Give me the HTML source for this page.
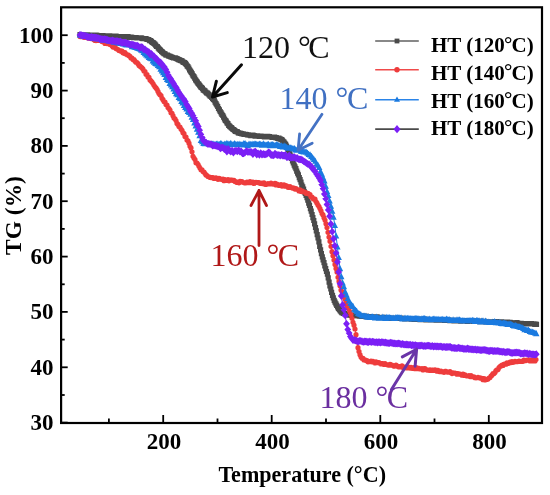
<!DOCTYPE html>
<html><head><meta charset="utf-8"><title>TG</title>
<style>
html,body{margin:0;padding:0;background:#fff;}
svg{display:block}
text{font-family:"Liberation Serif",serif;}
.tk text{font-weight:bold;font-size:23px;fill:#000}
.ax line{stroke:#000;stroke-width:1.8}
.an{font-size:32px}
.lg text{font-weight:bold;font-size:21px}
</style></head><body>
<svg width="550" height="495" viewBox="0 0 550 495">
<rect width="550" height="495" fill="#fff"/>
<g class="cv">
<path d="M80,34.6 80.8,35.1 81.7,35.1 82.5,34.8 83.4,35 84.2,35 85.1,35.2 85.9,35.3 86.8,34.9 87.6,34.9 88.5,35.5 89.3,35.2 90.2,35.5 91,35 91.9,35.3 92.7,35.6 93.6,35.3 94.4,35.8 95.3,35.8 96.1,35.2 97,35.3 97.8,35.7 98.7,36 99.5,35.6 100.4,35.6 101.2,35.7 102.1,35.5 102.9,35.7 103.8,35.9 104.6,35.9 105.5,35.8 106.3,35.8 107.2,35.9 108,36.1 108.9,36 109.7,35.9 110.6,36.5 111.4,36.3 112.3,36.4 113.1,36.1 114,36.7 114.8,36.7 115.7,36.2 116.5,36.4 117.4,36.7 118.2,36.7 119.1,36.9 119.9,36.6 120.8,36.9 121.6,36.8 122.5,36.6 123.3,36.9 124.2,37.1 125,37.1 125.9,36.9 126.7,37 127.6,36.7 128.4,36.9 129.3,37.4 130.1,37.2 131,37 131.8,37.4 132.7,37.5 133.5,37.6 134.4,37.5 135.2,37.6 136.1,37.7 136.9,38 137.8,37.9 138.6,37.8 139.5,38 140.3,37.8 141.2,37.9 142,38.4 142.9,38.7 143.7,38.5 144.6,38.5 145.4,38.5 146.3,38.9 147.1,39.4 148,39.5 148.8,39.7 149.7,40.7 150.5,40.7 151.4,41.4 152.2,42.3 153.1,42.7 153.9,43.4 154.8,44.1 155.6,45.1 156.5,46.3 157.3,46.5 158.2,47.9 159,48.8 159.9,49.7 160.7,50.5 161.6,51.5 162.4,52.2 163.3,53 164.1,53.6 165,53.8 165.8,54.9 166.7,55.1 167.5,55.2 168.4,55.8 169.2,56.2 170.1,56.4 170.9,56.8 171.8,57.2 172.6,57.5 173.5,57.8 174.3,57.9 175.2,57.9 176,58.3 176.9,58.6 177.7,59.2 178.6,59.7 179.4,59.9 180.3,60.3 181.1,60.7 182,60.8 182.8,61.8 183.7,62.3 184.5,62.6 185.4,63.4 186.2,64.4 187.1,65.9 187.9,66.7 188.8,68 189.6,69.8 190.5,71.1 191.3,72.4 192.2,73.9 193,75.6 193.9,76.7 194.7,78.2 195.6,79.8 196.4,81 197.3,82.2 198.1,83.5 199,84.4 199.8,85.7 200.7,86.8 201.5,87.5 202.4,88.4 203.2,89.8 204.1,90.3 204.9,90.9 205.8,92 206.6,92.9 207.5,93.2 208.3,94 209.2,94.9 210,96 210.9,96.4 211.7,97.5 212.6,98.4 213.4,99.3 214.3,100.2 215.1,102.1 216,103.6 216.8,105 217.7,106.5 218.5,108.5 219.4,109.9 220.2,111.5 221.1,112.8 221.9,114.4 222.8,115.5 223.6,117.1 224.5,119 225.3,120.3 226.2,121.2 227,122.9 227.9,123.7 228.7,125.3 229.6,126.2 230.4,127 231.3,127.7 232.1,128.3 233,129.5 233.8,129.6 234.7,130.7 235.5,131.3 236.4,131.6 237.2,131.7 238.1,132.6 238.9,133.1 239.8,133.2 240.6,133.4 241.5,133.6 242.3,133.8 243.2,133.9 244,134.4 244.9,134.4 245.7,134.4 246.6,134.5 247.4,135 248.3,134.9 249.1,135.1 250,135.1 250.8,135.6 251.7,135.7 252.5,135.2 253.4,135.4 254.2,135.6 255.1,136.1 255.9,136.1 256.8,135.8 257.6,135.8 258.5,136.2 259.3,136.4 260.2,136.5 261,136.1 261.9,136.5 262.7,136.4 263.6,136.4 264.4,136.8 265.3,136.3 266.1,136.7 267,136.3 267.8,136.4 268.7,137 269.5,136.6 270.4,137 271.2,137 272.1,137.3 272.9,137 273.8,137.1 274.6,137.2 275.5,137.7 276.3,137.7 277.2,138.1 278,138.4 278.9,138.2 279.7,138.9 280.6,139.1 281.4,139.5 282.3,140.1 283.1,141.4 284,142.2 284.8,143.4 285.7,144.4 286.5,146.1 287.4,148 288.2,149.7 289.1,152 289.9,153.9 290.8,156.1 291.6,158.4 292.5,161 293.3,162.9 294.2,165.2 295,166.8 295.9,168.7 296.7,171.1 297.6,173.2 298.4,174.8 299.3,177.6 300.1,179.7 301,182.1 301.9,185.1 302.7,186.9 303.6,189.2 304.4,191.8 305.3,193.4 306.1,195.3 307,197.6 307.8,200.2 308.7,203.1 309.5,205.3 310.4,208.6 311.2,211.1 312.1,214.5 312.9,217.6 313.8,220.5 314.6,223.9 315.5,227.5 316.3,230.8 317.2,234.7 318,238 318.9,241.9 319.7,246.4 320.6,249.8 321.4,253.6 322.3,256.9 323.1,259.9 324,262.6 324.8,265.9 325.7,268.7 326.5,271.5 327.4,274.1 328.2,277.8 329.1,282.1 329.9,285.9 330.8,289 331.6,292.4 332.5,295.4 333.3,297.9 334.2,300.4 335,302.2 335.9,303.9 336.7,305.3 337.6,306.8 338.4,308.5 339.3,309.3 340.1,310.6 341,311.6 341.8,312.6 342.7,312.9 343.5,313.3 344.4,313.6 345.2,313.9 346.1,314.6 346.9,314.8 347.8,314.6 348.6,314.8 349.5,315.1 350.3,315.2 351.2,315.3 352,315.2 352.9,315.1 353.7,315.3 354.6,315.3 355.4,315.7 356.3,315.4 357.1,315.5 358,315.9 358.8,315.8 359.7,316.2 360.5,316 361.4,316.4 362.2,315.9 363.1,316.2 363.9,316.5 364.8,316.1 365.6,316.7 366.5,316.3 367.3,316.7 368.2,316.9 369,316.9 369.9,316.6 370.7,316.5 371.6,316.9 372.4,317.2 373.3,316.8 374.1,317.3 375,316.8 375.8,317.4 376.7,316.8 377.5,317.1 378.4,317.6 379.2,317.5 380.1,317.7 380.9,317.7 381.8,317.7 382.6,317.7 383.5,317.4 384.3,317.6 385.2,317.5 386,317.9 386.9,317.9 387.7,317.7 388.6,317.6 389.4,318.3 390.3,318.2 391.1,318.1 392,318.1 392.8,318.4 393.7,318.1 394.5,318.1 395.4,318.1 396.2,318.1 397.1,318 397.9,318.5 398.8,318.4 399.6,318.5 400.5,318.2 401.3,318.5 402.2,318.4 403,318.4 403.9,318.5 404.7,318.9 405.6,318.7 406.4,318.7 407.3,318.9 408.1,318.7 409,318.6 409.8,319 410.7,319 411.5,319.1 412.4,319 413.2,319.2 414.1,319.3 414.9,318.9 415.8,319.1 416.6,319.2 417.5,319 418.3,319.2 419.2,319.3 420,319.6 420.9,319.6 421.7,319.2 422.6,319.5 423.4,319.1 424.3,319.1 425.1,319.5 426,319.8 426.8,319.3 427.7,319.7 428.5,319.8 429.4,319.5 430.2,319.8 431.1,319.9 431.9,319.6 432.8,319.9 433.6,319.9 434.5,319.8 435.3,320 436.2,320.1 437,320.2 437.9,319.9 438.7,319.7 439.6,319.8 440.4,319.8 441.3,320.1 442.1,320.2 443,319.8 443.8,320.2 444.7,320.3 445.5,320.1 446.4,320.2 447.2,320 448.1,320.4 448.9,320 449.8,320.7 450.6,320.6 451.5,320.5 452.3,320.3 453.2,320.7 454,320.8 454.9,320.3 455.7,320.7 456.6,320.8 457.4,320.7 458.3,320.8 459.1,320.6 460,321 460.8,321.1 461.7,320.7 462.5,321 463.4,320.8 464.2,320.6 465.1,320.8 465.9,320.6 466.8,321.2 467.6,321.3 468.5,320.7 469.3,321.1 470.2,321 471,320.8 471.9,321 472.7,321 473.6,321.4 474.4,320.9 475.3,321 476.1,321.2 477,321 477.8,321.4 478.7,321.5 479.5,321.6 480.4,321.2 481.2,321.3 482.1,321.5 482.9,321.4 483.8,321.6 484.6,321.4 485.5,321.8 486.3,321.9 487.2,321.9 488,322 488.9,321.8 489.7,321.8 490.6,322.1 491.4,322 492.3,321.9 493.1,321.8 494,321.8 494.8,321.7 495.7,322.2 496.5,321.7 497.4,322.2 498.2,322.1 499.1,322.4 499.9,322.3 500.8,322.5 501.6,321.9 502.5,322.2 503.3,322.3 504.2,322.2 505,322.3 505.9,322.3 506.7,322.4 507.6,322.1 508.4,322.4 509.3,322.5 510.1,322.4 511,322.5 511.8,322.9 512.7,322.8 513.5,322.8 514.4,322.9 515.2,322.8 516.1,322.8 516.9,322.7 517.8,323 518.6,323.3 519.5,323.5 520.3,323.6 521.2,323.4 522,323.8 522.9,323.5 523.7,323.8 524.6,323.5 525.4,323.8 526.3,324 527.1,323.6 528,323.5 528.8,323.9 529.7,323.9 530.5,323.8 531.4,323.6 532.2,323.9 533.1,323.9 533.9,323.9 534.8,324.3 535.6,324.1 536.5,324.3" fill="none" stroke="#4a4a4a" stroke-width="1"/><path d="M77.4,32h5.2v5.2h-5.2zM78.2,32.5h5.2v5.2h-5.2zM79.1,32.5h5.2v5.2h-5.2zM79.9,32.2h5.2v5.2h-5.2zM80.8,32.4h5.2v5.2h-5.2zM81.6,32.4h5.2v5.2h-5.2zM82.5,32.6h5.2v5.2h-5.2zM83.3,32.7h5.2v5.2h-5.2zM84.2,32.3h5.2v5.2h-5.2zM85,32.3h5.2v5.2h-5.2zM85.9,32.9h5.2v5.2h-5.2zM86.7,32.6h5.2v5.2h-5.2zM87.6,32.9h5.2v5.2h-5.2zM88.4,32.4h5.2v5.2h-5.2zM89.3,32.7h5.2v5.2h-5.2zM90.1,33h5.2v5.2h-5.2zM91,32.7h5.2v5.2h-5.2zM91.8,33.2h5.2v5.2h-5.2zM92.7,33.2h5.2v5.2h-5.2zM93.5,32.6h5.2v5.2h-5.2zM94.4,32.7h5.2v5.2h-5.2zM95.2,33.1h5.2v5.2h-5.2zM96.1,33.4h5.2v5.2h-5.2zM96.9,33h5.2v5.2h-5.2zM97.8,33h5.2v5.2h-5.2zM98.6,33.1h5.2v5.2h-5.2zM99.5,32.9h5.2v5.2h-5.2zM100.3,33.1h5.2v5.2h-5.2zM101.2,33.3h5.2v5.2h-5.2zM102,33.3h5.2v5.2h-5.2zM102.9,33.2h5.2v5.2h-5.2zM103.7,33.2h5.2v5.2h-5.2zM104.6,33.3h5.2v5.2h-5.2zM105.4,33.5h5.2v5.2h-5.2zM106.3,33.4h5.2v5.2h-5.2zM107.1,33.3h5.2v5.2h-5.2zM108,33.9h5.2v5.2h-5.2zM108.8,33.7h5.2v5.2h-5.2zM109.7,33.8h5.2v5.2h-5.2zM110.5,33.5h5.2v5.2h-5.2zM111.4,34.1h5.2v5.2h-5.2zM112.2,34.1h5.2v5.2h-5.2zM113.1,33.6h5.2v5.2h-5.2zM113.9,33.8h5.2v5.2h-5.2zM114.8,34.1h5.2v5.2h-5.2zM115.6,34.1h5.2v5.2h-5.2zM116.5,34.3h5.2v5.2h-5.2zM117.3,34h5.2v5.2h-5.2zM118.2,34.3h5.2v5.2h-5.2zM119,34.2h5.2v5.2h-5.2zM119.9,34h5.2v5.2h-5.2zM120.7,34.3h5.2v5.2h-5.2zM121.6,34.5h5.2v5.2h-5.2zM122.4,34.5h5.2v5.2h-5.2zM123.3,34.3h5.2v5.2h-5.2zM124.1,34.4h5.2v5.2h-5.2zM125,34.1h5.2v5.2h-5.2zM125.8,34.3h5.2v5.2h-5.2zM126.7,34.8h5.2v5.2h-5.2zM127.5,34.6h5.2v5.2h-5.2zM128.4,34.4h5.2v5.2h-5.2zM129.2,34.8h5.2v5.2h-5.2zM130.1,34.9h5.2v5.2h-5.2zM130.9,35h5.2v5.2h-5.2zM131.8,34.9h5.2v5.2h-5.2zM132.6,35h5.2v5.2h-5.2zM133.5,35.1h5.2v5.2h-5.2zM134.3,35.4h5.2v5.2h-5.2zM135.2,35.3h5.2v5.2h-5.2zM136,35.2h5.2v5.2h-5.2zM136.9,35.4h5.2v5.2h-5.2zM137.7,35.2h5.2v5.2h-5.2zM138.6,35.3h5.2v5.2h-5.2zM139.4,35.8h5.2v5.2h-5.2zM140.3,36.1h5.2v5.2h-5.2zM141.1,35.9h5.2v5.2h-5.2zM142,35.9h5.2v5.2h-5.2zM142.8,35.9h5.2v5.2h-5.2zM143.7,36.3h5.2v5.2h-5.2zM144.5,36.8h5.2v5.2h-5.2zM145.4,36.9h5.2v5.2h-5.2zM146.2,37.1h5.2v5.2h-5.2zM147.1,38.1h5.2v5.2h-5.2zM147.9,38.1h5.2v5.2h-5.2zM148.8,38.8h5.2v5.2h-5.2zM149.6,39.7h5.2v5.2h-5.2zM150.5,40.1h5.2v5.2h-5.2zM151.3,40.8h5.2v5.2h-5.2zM152.2,41.5h5.2v5.2h-5.2zM153,42.5h5.2v5.2h-5.2zM153.9,43.7h5.2v5.2h-5.2zM154.7,43.9h5.2v5.2h-5.2zM155.6,45.3h5.2v5.2h-5.2zM156.4,46.2h5.2v5.2h-5.2zM157.3,47.1h5.2v5.2h-5.2zM158.1,47.9h5.2v5.2h-5.2zM159,48.9h5.2v5.2h-5.2zM159.8,49.6h5.2v5.2h-5.2zM160.7,50.4h5.2v5.2h-5.2zM161.5,51h5.2v5.2h-5.2zM162.4,51.2h5.2v5.2h-5.2zM163.2,52.3h5.2v5.2h-5.2zM164.1,52.5h5.2v5.2h-5.2zM164.9,52.6h5.2v5.2h-5.2zM165.8,53.2h5.2v5.2h-5.2zM166.6,53.6h5.2v5.2h-5.2zM167.5,53.8h5.2v5.2h-5.2zM168.3,54.2h5.2v5.2h-5.2zM169.2,54.6h5.2v5.2h-5.2zM170,54.9h5.2v5.2h-5.2zM170.9,55.2h5.2v5.2h-5.2zM171.7,55.3h5.2v5.2h-5.2zM172.6,55.3h5.2v5.2h-5.2zM173.4,55.7h5.2v5.2h-5.2zM174.3,56h5.2v5.2h-5.2zM175.1,56.6h5.2v5.2h-5.2zM176,57.1h5.2v5.2h-5.2zM176.8,57.3h5.2v5.2h-5.2zM177.7,57.7h5.2v5.2h-5.2zM178.5,58.1h5.2v5.2h-5.2zM179.4,58.2h5.2v5.2h-5.2zM180.2,59.2h5.2v5.2h-5.2zM181.1,59.7h5.2v5.2h-5.2zM181.9,60h5.2v5.2h-5.2zM182.8,60.8h5.2v5.2h-5.2zM183.6,61.8h5.2v5.2h-5.2zM184.5,63.3h5.2v5.2h-5.2zM185.3,64.1h5.2v5.2h-5.2zM186.2,65.4h5.2v5.2h-5.2zM187,67.2h5.2v5.2h-5.2zM187.9,68.5h5.2v5.2h-5.2zM188.7,69.8h5.2v5.2h-5.2zM189.6,71.3h5.2v5.2h-5.2zM190.4,73h5.2v5.2h-5.2zM191.3,74.1h5.2v5.2h-5.2zM192.1,75.6h5.2v5.2h-5.2zM193,77.2h5.2v5.2h-5.2zM193.8,78.4h5.2v5.2h-5.2zM194.7,79.6h5.2v5.2h-5.2zM195.5,80.9h5.2v5.2h-5.2zM196.4,81.8h5.2v5.2h-5.2zM197.2,83.1h5.2v5.2h-5.2zM198.1,84.2h5.2v5.2h-5.2zM198.9,84.9h5.2v5.2h-5.2zM199.8,85.8h5.2v5.2h-5.2zM200.6,87.2h5.2v5.2h-5.2zM201.5,87.7h5.2v5.2h-5.2zM202.3,88.3h5.2v5.2h-5.2zM203.2,89.4h5.2v5.2h-5.2zM204,90.3h5.2v5.2h-5.2zM204.9,90.6h5.2v5.2h-5.2zM205.7,91.4h5.2v5.2h-5.2zM206.6,92.3h5.2v5.2h-5.2zM207.4,93.4h5.2v5.2h-5.2zM208.3,93.8h5.2v5.2h-5.2zM209.1,94.9h5.2v5.2h-5.2zM210,95.8h5.2v5.2h-5.2zM210.8,96.7h5.2v5.2h-5.2zM211.7,97.6h5.2v5.2h-5.2zM212.5,99.5h5.2v5.2h-5.2zM213.4,101h5.2v5.2h-5.2zM214.2,102.4h5.2v5.2h-5.2zM215.1,103.9h5.2v5.2h-5.2zM215.9,105.9h5.2v5.2h-5.2zM216.8,107.3h5.2v5.2h-5.2zM217.6,108.9h5.2v5.2h-5.2zM218.5,110.2h5.2v5.2h-5.2zM219.3,111.8h5.2v5.2h-5.2zM220.2,112.9h5.2v5.2h-5.2zM221,114.5h5.2v5.2h-5.2zM221.9,116.4h5.2v5.2h-5.2zM222.7,117.7h5.2v5.2h-5.2zM223.6,118.6h5.2v5.2h-5.2zM224.4,120.3h5.2v5.2h-5.2zM225.3,121.1h5.2v5.2h-5.2zM226.1,122.7h5.2v5.2h-5.2zM227,123.6h5.2v5.2h-5.2zM227.8,124.4h5.2v5.2h-5.2zM228.7,125.1h5.2v5.2h-5.2zM229.5,125.7h5.2v5.2h-5.2zM230.4,126.9h5.2v5.2h-5.2zM231.2,127h5.2v5.2h-5.2zM232.1,128.1h5.2v5.2h-5.2zM232.9,128.7h5.2v5.2h-5.2zM233.8,129h5.2v5.2h-5.2zM234.6,129.1h5.2v5.2h-5.2zM235.5,130h5.2v5.2h-5.2zM236.3,130.5h5.2v5.2h-5.2zM237.2,130.6h5.2v5.2h-5.2zM238,130.8h5.2v5.2h-5.2zM238.9,131h5.2v5.2h-5.2zM239.7,131.2h5.2v5.2h-5.2zM240.6,131.3h5.2v5.2h-5.2zM241.4,131.8h5.2v5.2h-5.2zM242.3,131.8h5.2v5.2h-5.2zM243.1,131.8h5.2v5.2h-5.2zM244,131.9h5.2v5.2h-5.2zM244.8,132.4h5.2v5.2h-5.2zM245.7,132.3h5.2v5.2h-5.2zM246.5,132.5h5.2v5.2h-5.2zM247.4,132.5h5.2v5.2h-5.2zM248.2,133h5.2v5.2h-5.2zM249.1,133.1h5.2v5.2h-5.2zM249.9,132.6h5.2v5.2h-5.2zM250.8,132.8h5.2v5.2h-5.2zM251.6,133h5.2v5.2h-5.2zM252.5,133.5h5.2v5.2h-5.2zM253.3,133.5h5.2v5.2h-5.2zM254.2,133.2h5.2v5.2h-5.2zM255,133.2h5.2v5.2h-5.2zM255.9,133.6h5.2v5.2h-5.2zM256.7,133.8h5.2v5.2h-5.2zM257.6,133.9h5.2v5.2h-5.2zM258.4,133.5h5.2v5.2h-5.2zM259.3,133.9h5.2v5.2h-5.2zM260.1,133.8h5.2v5.2h-5.2zM261,133.8h5.2v5.2h-5.2zM261.8,134.2h5.2v5.2h-5.2zM262.7,133.7h5.2v5.2h-5.2zM263.5,134.1h5.2v5.2h-5.2zM264.4,133.7h5.2v5.2h-5.2zM265.2,133.8h5.2v5.2h-5.2zM266.1,134.4h5.2v5.2h-5.2zM266.9,134h5.2v5.2h-5.2zM267.8,134.4h5.2v5.2h-5.2zM268.6,134.4h5.2v5.2h-5.2zM269.5,134.7h5.2v5.2h-5.2zM270.3,134.4h5.2v5.2h-5.2zM271.2,134.5h5.2v5.2h-5.2zM272,134.6h5.2v5.2h-5.2zM272.9,135.1h5.2v5.2h-5.2zM273.7,135.1h5.2v5.2h-5.2zM274.6,135.5h5.2v5.2h-5.2zM275.4,135.8h5.2v5.2h-5.2zM276.3,135.6h5.2v5.2h-5.2zM277.1,136.3h5.2v5.2h-5.2zM278,136.5h5.2v5.2h-5.2zM278.8,136.9h5.2v5.2h-5.2zM279.7,137.5h5.2v5.2h-5.2zM280.5,138.8h5.2v5.2h-5.2zM281.4,139.6h5.2v5.2h-5.2zM282.2,140.8h5.2v5.2h-5.2zM283.1,141.8h5.2v5.2h-5.2zM283.9,143.5h5.2v5.2h-5.2zM284.8,145.4h5.2v5.2h-5.2zM285.6,147.1h5.2v5.2h-5.2zM286.5,149.4h5.2v5.2h-5.2zM287.3,151.3h5.2v5.2h-5.2zM288.2,153.5h5.2v5.2h-5.2zM289,155.8h5.2v5.2h-5.2zM289.9,158.4h5.2v5.2h-5.2zM290.7,160.3h5.2v5.2h-5.2zM291.6,162.6h5.2v5.2h-5.2zM292.4,164.2h5.2v5.2h-5.2zM293.3,166.1h5.2v5.2h-5.2zM294.1,168.5h5.2v5.2h-5.2zM295,170.6h5.2v5.2h-5.2zM295.8,172.2h5.2v5.2h-5.2zM296.7,175h5.2v5.2h-5.2zM297.5,177.1h5.2v5.2h-5.2zM298.4,179.5h5.2v5.2h-5.2zM299.2,182.5h5.2v5.2h-5.2zM300.1,184.3h5.2v5.2h-5.2zM301,186.6h5.2v5.2h-5.2zM301.8,189.2h5.2v5.2h-5.2zM302.7,190.8h5.2v5.2h-5.2zM303.5,192.7h5.2v5.2h-5.2zM304.4,195h5.2v5.2h-5.2zM305.2,197.6h5.2v5.2h-5.2zM306.1,200.5h5.2v5.2h-5.2zM306.9,202.7h5.2v5.2h-5.2zM307.8,206h5.2v5.2h-5.2zM308.6,208.5h5.2v5.2h-5.2zM309.5,211.9h5.2v5.2h-5.2zM310.3,215h5.2v5.2h-5.2zM311.2,217.9h5.2v5.2h-5.2zM312,221.3h5.2v5.2h-5.2zM312.9,224.9h5.2v5.2h-5.2zM313.7,228.2h5.2v5.2h-5.2zM314.6,232.1h5.2v5.2h-5.2zM315.4,235.4h5.2v5.2h-5.2zM316.3,239.3h5.2v5.2h-5.2zM317.1,243.8h5.2v5.2h-5.2zM318,247.2h5.2v5.2h-5.2zM318.8,251h5.2v5.2h-5.2zM319.7,254.3h5.2v5.2h-5.2zM320.5,257.3h5.2v5.2h-5.2zM321.4,260h5.2v5.2h-5.2zM322.2,263.3h5.2v5.2h-5.2zM323.1,266.1h5.2v5.2h-5.2zM323.9,268.9h5.2v5.2h-5.2zM324.8,271.5h5.2v5.2h-5.2zM325.6,275.2h5.2v5.2h-5.2zM326.5,279.5h5.2v5.2h-5.2zM327.3,283.3h5.2v5.2h-5.2zM328.2,286.4h5.2v5.2h-5.2zM329,289.8h5.2v5.2h-5.2zM329.9,292.8h5.2v5.2h-5.2zM330.7,295.3h5.2v5.2h-5.2zM331.6,297.8h5.2v5.2h-5.2zM332.4,299.6h5.2v5.2h-5.2zM333.3,301.3h5.2v5.2h-5.2zM334.1,302.7h5.2v5.2h-5.2zM335,304.2h5.2v5.2h-5.2zM335.8,305.9h5.2v5.2h-5.2zM336.7,306.7h5.2v5.2h-5.2zM337.5,308h5.2v5.2h-5.2zM338.4,309h5.2v5.2h-5.2zM339.2,310h5.2v5.2h-5.2zM340.1,310.3h5.2v5.2h-5.2zM340.9,310.7h5.2v5.2h-5.2zM341.8,311h5.2v5.2h-5.2zM342.6,311.3h5.2v5.2h-5.2zM343.5,312h5.2v5.2h-5.2zM344.3,312.2h5.2v5.2h-5.2zM345.2,312h5.2v5.2h-5.2zM346,312.2h5.2v5.2h-5.2zM346.9,312.5h5.2v5.2h-5.2zM347.7,312.6h5.2v5.2h-5.2zM348.6,312.7h5.2v5.2h-5.2zM349.4,312.6h5.2v5.2h-5.2zM350.3,312.5h5.2v5.2h-5.2zM351.1,312.7h5.2v5.2h-5.2zM352,312.7h5.2v5.2h-5.2zM352.8,313.1h5.2v5.2h-5.2zM353.7,312.8h5.2v5.2h-5.2zM354.5,312.9h5.2v5.2h-5.2zM355.4,313.3h5.2v5.2h-5.2zM356.2,313.2h5.2v5.2h-5.2zM357.1,313.6h5.2v5.2h-5.2zM357.9,313.4h5.2v5.2h-5.2zM358.8,313.8h5.2v5.2h-5.2zM359.6,313.3h5.2v5.2h-5.2zM360.5,313.6h5.2v5.2h-5.2zM361.3,313.9h5.2v5.2h-5.2zM362.2,313.5h5.2v5.2h-5.2zM363,314.1h5.2v5.2h-5.2zM363.9,313.7h5.2v5.2h-5.2zM364.7,314.1h5.2v5.2h-5.2zM365.6,314.3h5.2v5.2h-5.2zM366.4,314.3h5.2v5.2h-5.2zM367.3,314h5.2v5.2h-5.2zM368.1,313.9h5.2v5.2h-5.2zM369,314.3h5.2v5.2h-5.2zM369.8,314.6h5.2v5.2h-5.2zM370.7,314.2h5.2v5.2h-5.2zM371.5,314.7h5.2v5.2h-5.2zM372.4,314.2h5.2v5.2h-5.2zM373.2,314.8h5.2v5.2h-5.2zM374.1,314.2h5.2v5.2h-5.2zM374.9,314.5h5.2v5.2h-5.2zM375.8,315h5.2v5.2h-5.2zM376.6,314.9h5.2v5.2h-5.2zM377.5,315.1h5.2v5.2h-5.2zM378.3,315.1h5.2v5.2h-5.2zM379.2,315.1h5.2v5.2h-5.2zM380,315.1h5.2v5.2h-5.2zM380.9,314.8h5.2v5.2h-5.2zM381.7,315h5.2v5.2h-5.2zM382.6,314.9h5.2v5.2h-5.2zM383.4,315.3h5.2v5.2h-5.2zM384.3,315.3h5.2v5.2h-5.2zM385.1,315.1h5.2v5.2h-5.2zM386,315h5.2v5.2h-5.2zM386.8,315.7h5.2v5.2h-5.2zM387.7,315.6h5.2v5.2h-5.2zM388.5,315.5h5.2v5.2h-5.2zM389.4,315.5h5.2v5.2h-5.2zM390.2,315.8h5.2v5.2h-5.2zM391.1,315.5h5.2v5.2h-5.2zM391.9,315.5h5.2v5.2h-5.2zM392.8,315.5h5.2v5.2h-5.2zM393.6,315.5h5.2v5.2h-5.2zM394.5,315.4h5.2v5.2h-5.2zM395.3,315.9h5.2v5.2h-5.2zM396.2,315.8h5.2v5.2h-5.2zM397,315.9h5.2v5.2h-5.2zM397.9,315.6h5.2v5.2h-5.2zM398.7,315.9h5.2v5.2h-5.2zM399.6,315.8h5.2v5.2h-5.2zM400.4,315.8h5.2v5.2h-5.2zM401.3,315.9h5.2v5.2h-5.2zM402.1,316.3h5.2v5.2h-5.2zM403,316.1h5.2v5.2h-5.2zM403.8,316.1h5.2v5.2h-5.2zM404.7,316.3h5.2v5.2h-5.2zM405.5,316.1h5.2v5.2h-5.2zM406.4,316h5.2v5.2h-5.2zM407.2,316.4h5.2v5.2h-5.2zM408.1,316.4h5.2v5.2h-5.2zM408.9,316.5h5.2v5.2h-5.2zM409.8,316.4h5.2v5.2h-5.2zM410.6,316.6h5.2v5.2h-5.2zM411.5,316.7h5.2v5.2h-5.2zM412.3,316.3h5.2v5.2h-5.2zM413.2,316.5h5.2v5.2h-5.2zM414,316.6h5.2v5.2h-5.2zM414.9,316.4h5.2v5.2h-5.2zM415.7,316.6h5.2v5.2h-5.2zM416.6,316.7h5.2v5.2h-5.2zM417.4,317h5.2v5.2h-5.2zM418.3,317h5.2v5.2h-5.2zM419.1,316.6h5.2v5.2h-5.2zM420,316.9h5.2v5.2h-5.2zM420.8,316.5h5.2v5.2h-5.2zM421.7,316.5h5.2v5.2h-5.2zM422.5,316.9h5.2v5.2h-5.2zM423.4,317.2h5.2v5.2h-5.2zM424.2,316.7h5.2v5.2h-5.2zM425.1,317.1h5.2v5.2h-5.2zM425.9,317.2h5.2v5.2h-5.2zM426.8,316.9h5.2v5.2h-5.2zM427.6,317.2h5.2v5.2h-5.2zM428.5,317.3h5.2v5.2h-5.2zM429.3,317h5.2v5.2h-5.2zM430.2,317.3h5.2v5.2h-5.2zM431,317.3h5.2v5.2h-5.2zM431.9,317.2h5.2v5.2h-5.2zM432.7,317.4h5.2v5.2h-5.2zM433.6,317.5h5.2v5.2h-5.2zM434.4,317.6h5.2v5.2h-5.2zM435.3,317.3h5.2v5.2h-5.2zM436.1,317.1h5.2v5.2h-5.2zM437,317.2h5.2v5.2h-5.2zM437.8,317.2h5.2v5.2h-5.2zM438.7,317.5h5.2v5.2h-5.2zM439.5,317.6h5.2v5.2h-5.2zM440.4,317.2h5.2v5.2h-5.2zM441.2,317.6h5.2v5.2h-5.2zM442.1,317.7h5.2v5.2h-5.2zM442.9,317.5h5.2v5.2h-5.2zM443.8,317.6h5.2v5.2h-5.2zM444.6,317.4h5.2v5.2h-5.2zM445.5,317.8h5.2v5.2h-5.2zM446.3,317.4h5.2v5.2h-5.2zM447.2,318.1h5.2v5.2h-5.2zM448,318h5.2v5.2h-5.2zM448.9,317.9h5.2v5.2h-5.2zM449.7,317.7h5.2v5.2h-5.2zM450.6,318.1h5.2v5.2h-5.2zM451.4,318.2h5.2v5.2h-5.2zM452.3,317.7h5.2v5.2h-5.2zM453.1,318.1h5.2v5.2h-5.2zM454,318.2h5.2v5.2h-5.2zM454.8,318.1h5.2v5.2h-5.2zM455.7,318.2h5.2v5.2h-5.2zM456.5,318h5.2v5.2h-5.2zM457.4,318.4h5.2v5.2h-5.2zM458.2,318.5h5.2v5.2h-5.2zM459.1,318.1h5.2v5.2h-5.2zM459.9,318.4h5.2v5.2h-5.2zM460.8,318.2h5.2v5.2h-5.2zM461.6,318h5.2v5.2h-5.2zM462.5,318.2h5.2v5.2h-5.2zM463.3,318h5.2v5.2h-5.2zM464.2,318.6h5.2v5.2h-5.2zM465,318.7h5.2v5.2h-5.2zM465.9,318.1h5.2v5.2h-5.2zM466.7,318.5h5.2v5.2h-5.2zM467.6,318.4h5.2v5.2h-5.2zM468.4,318.2h5.2v5.2h-5.2zM469.3,318.4h5.2v5.2h-5.2zM470.1,318.4h5.2v5.2h-5.2zM471,318.8h5.2v5.2h-5.2zM471.8,318.3h5.2v5.2h-5.2zM472.7,318.4h5.2v5.2h-5.2zM473.5,318.6h5.2v5.2h-5.2zM474.4,318.4h5.2v5.2h-5.2zM475.2,318.8h5.2v5.2h-5.2zM476.1,318.9h5.2v5.2h-5.2zM476.9,319h5.2v5.2h-5.2zM477.8,318.6h5.2v5.2h-5.2zM478.6,318.7h5.2v5.2h-5.2zM479.5,318.9h5.2v5.2h-5.2zM480.3,318.8h5.2v5.2h-5.2zM481.2,319h5.2v5.2h-5.2zM482,318.8h5.2v5.2h-5.2zM482.9,319.2h5.2v5.2h-5.2zM483.7,319.3h5.2v5.2h-5.2zM484.6,319.3h5.2v5.2h-5.2zM485.4,319.4h5.2v5.2h-5.2zM486.3,319.2h5.2v5.2h-5.2zM487.1,319.2h5.2v5.2h-5.2zM488,319.5h5.2v5.2h-5.2zM488.8,319.4h5.2v5.2h-5.2zM489.7,319.3h5.2v5.2h-5.2zM490.5,319.2h5.2v5.2h-5.2zM491.4,319.2h5.2v5.2h-5.2zM492.2,319.1h5.2v5.2h-5.2zM493.1,319.6h5.2v5.2h-5.2zM493.9,319.1h5.2v5.2h-5.2zM494.8,319.6h5.2v5.2h-5.2zM495.6,319.5h5.2v5.2h-5.2zM496.5,319.8h5.2v5.2h-5.2zM497.3,319.7h5.2v5.2h-5.2zM498.2,319.9h5.2v5.2h-5.2zM499,319.3h5.2v5.2h-5.2zM499.9,319.6h5.2v5.2h-5.2zM500.7,319.7h5.2v5.2h-5.2zM501.6,319.6h5.2v5.2h-5.2zM502.4,319.7h5.2v5.2h-5.2zM503.3,319.7h5.2v5.2h-5.2zM504.1,319.8h5.2v5.2h-5.2zM505,319.5h5.2v5.2h-5.2zM505.8,319.8h5.2v5.2h-5.2zM506.7,319.9h5.2v5.2h-5.2zM507.5,319.8h5.2v5.2h-5.2zM508.4,319.9h5.2v5.2h-5.2zM509.2,320.3h5.2v5.2h-5.2zM510.1,320.2h5.2v5.2h-5.2zM510.9,320.2h5.2v5.2h-5.2zM511.8,320.3h5.2v5.2h-5.2zM512.6,320.2h5.2v5.2h-5.2zM513.5,320.2h5.2v5.2h-5.2zM514.3,320.1h5.2v5.2h-5.2zM515.2,320.4h5.2v5.2h-5.2zM516,320.7h5.2v5.2h-5.2zM516.9,320.9h5.2v5.2h-5.2zM517.7,321h5.2v5.2h-5.2zM518.6,320.8h5.2v5.2h-5.2zM519.4,321.2h5.2v5.2h-5.2zM520.3,320.9h5.2v5.2h-5.2zM521.1,321.2h5.2v5.2h-5.2zM522,320.9h5.2v5.2h-5.2zM522.8,321.2h5.2v5.2h-5.2zM523.7,321.4h5.2v5.2h-5.2zM524.5,321h5.2v5.2h-5.2zM525.4,320.9h5.2v5.2h-5.2zM526.2,321.3h5.2v5.2h-5.2zM527.1,321.3h5.2v5.2h-5.2zM527.9,321.2h5.2v5.2h-5.2zM528.8,321h5.2v5.2h-5.2zM529.6,321.3h5.2v5.2h-5.2zM530.5,321.3h5.2v5.2h-5.2zM531.3,321.3h5.2v5.2h-5.2zM532.2,321.7h5.2v5.2h-5.2zM533,321.5h5.2v5.2h-5.2zM533.9,321.7h5.2v5.2h-5.2z" fill="#4a4a4a"/>
<path d="M80,36.5 81,36.7 82,35.5 83,35.8 84,37.3 85,37.4 86,37.5 87,37.2 88,38 89,38.2 90,38.4 91,38 92,38.7 93,38.9 94,39.7 95,40.4 96,40.6 97,40.2 98,40.3 99,40.3 100,40.3 101,40.6 102,41.6 103,41.7 104,42.2 105,43.4 106,43.1 107,43.6 108,43.5 109,43.6 110,44.5 111,44.7 112,45.8 113,47.1 114,47.1 115,46.9 116,48.6 117,49 118,49.5 119,50.4 120,50.7 121,51.3 122,51.2 123,52.8 124,53.3 125,52.6 126,54.1 127,54.7 128,54.9 129,55.7 130,56.4 131,57.9 132,58 133,59.4 134,59.5 135,61.2 136,62.2 137,62.5 138,63.7 139,65.4 140,66.2 141,67 142,67.8 143,69.2 144,71.1 145,71.6 146,74.2 147,74.5 148,77 149,77.4 150,79.9 151,80.9 152,82 153,83.5 154,85.3 155,86.8 156,87.9 157,89.3 158,91.4 159,93.6 160,94.7 161,95.5 162,98.3 163,99.7 164,101.6 165,102.1 166,104.6 167,105.1 168,107.6 169,108.6 170,110.1 171,112.8 172,113.3 173,115.7 174,118 175,118.8 176,120.5 177,123.4 178,124.4 179,126.5 180,127 181,129.1 182,130.3 183,132.7 184,133.5 185,136.6 186,137 187,140 188,140.8 189,143.2 190,146.3 191,147.9 192,151.8 193,156.3 194,158.1 195,159.5 196,162.7 197,163 198,164.3 199,166.3 200,168.1 201,169.7 202,169.9 203,171.5 204,172 205,173.6 206,174.9 207,175.6 208,176.5 209,176.8 210,177.4 211,177.6 212,177.6 213,177.5 214,178.4 215,178 216,177.8 217,178.5 218,179.3 219,178.3 220,179.2 221,179.1 222,179.5 223,179 224,180.7 225,179.6 226,180.4 227,180.2 228,179.6 229,180.8 230,180.1 231,180 232,180.1 233,180.5 234,180.4 235,181.6 236,181.5 237,182.5 238,182.5 239,182.8 240,181.3 241,181.8 242,181.5 243,182.3 244,182.5 245,182.9 246,182.8 247,182 248,182.4 249,182.7 250,181.7 251,181.8 252,182.7 253,182.1 254,183.4 255,182.5 256,182.3 257,182.5 258,182.6 259,182.7 260,183.3 261,183.3 262,183 263,183.7 264,182.9 265,184.3 266,184.5 267,184.1 268,183.6 269,183.8 270,184 271,183 272,183.8 273,184.1 274,183.5 275,183.4 276,184.9 277,184.2 278,184.6 279,185.5 280,185.1 281,184.7 282,186.1 283,185.2 284,184.9 285,186.2 286,185.6 287,186.2 288,187.3 289,187.3 290,186.5 291,187.5 292,187.7 293,188.2 294,188.2 295,189.1 296,188.7 297,189.3 298,189.8 299,191 300,189.9 301,191.4 302,190.8 303,191.7 304,191.8 305,192.3 306,193.3 307,193.2 308,193.3 309,194 310,194.6 311,196.7 312,197.2 313,198.6 314,199.2 315,199.2 316,201.5 317,203.2 318,205 319,206.6 320,208.5 321,210.8 322,213.5 323,214.9 324,217.7 325,220 326,223.7 327,227.5 328,232.3 329,237 330,241.3 331,246.3 332,251.7 333,255.8 334,260.1 335,264.4 336,268.6 337,272.1 338,277.3 339,281.3 340,285.8 341,290 342,291.5 343,294.6 344,296.7 345,299.3 346,303.2 347,305.8 348,307.7 349,309.3 350,312.1 351,314.6 352,318.3 353,322.3 354,325.2 355,329 356,334.7 357,341.8 358,347.7 359,351.4 360,354.7 361,357 362,358.3 363,358.3 364,360 365,359.8 366,360.6 367,360.5 368,361.8 369,361.7 370,361.6 371,361.1 372,361.8 373,361.3 374,362.3 375,362.9 376,361.9 377,362.6 378,362.7 379,362.7 380,363.3 381,363.9 382,363.7 383,363.5 384,364.4 385,363.6 386,364.5 387,364.5 388,364.9 389,365.2 390,364.4 391,365.2 392,365 393,365.6 394,366.2 395,365.9 396,365 397,365.9 398,366.4 399,366.9 400,366.6 401,367 402,365.9 403,367.5 404,367.3 405,367.2 406,367.8 407,367.9 408,366.8 409,368 410,368.1 411,367.3 412,368.3 413,368.1 414,367.6 415,368.7 416,367.7 417,368.6 418,368.4 419,368.3 420,368.9 421,368.8 422,368.5 423,369.9 424,368.6 425,368.6 426,369.5 427,370.1 428,370 429,370.3 430,369.9 431,370.4 432,370 433,370 434,370.5 435,369.8 436,370 437,371.2 438,370.4 439,371.5 440,371.7 441,371.2 442,371.7 443,372 444,372.3 445,371.3 446,371.4 447,371.9 448,372.2 449,372.1 450,371.7 451,372.8 452,373.6 453,372.8 454,373.2 455,373.1 456,373.3 457,374.2 458,373.5 459,374.2 460,374.1 461,374.4 462,375.2 463,374 464,375.4 465,374.8 466,375.5 467,375.9 468,375.9 469,375.7 470,376.6 471,375.6 472,376.7 473,376.5 474,376.9 475,377.7 476,377.8 477,377.7 478,377.4 479,377.5 480,378.1 481,378 482,378.4 483,379.7 484,378.6 485,379.9 486,379.4 487,379.4 488,379.1 489,378.1 490,377.6 491,376.1 492,375.2 493,373.7 494,373.5 495,372.4 496,370.6 497,369.9 498,369.5 499,367.6 500,366.5 501,365.9 502,365.2 503,365.4 504,364.4 505,363.9 506,364.2 507,362.9 508,363.5 509,362.9 510,362.2 511,362.6 512,361.6 513,362.3 514,362.1 515,361.3 516,361.5 517,361.7 518,361.3 519,361.2 520,361.3 521,361.3 522,361 523,361.3 524,360.1 525,360.6 526,360.6 527,360.1 528,360.1 529,359.8 530,361 531,360 532,360.2 533,360.9 534,359.7 535,361 536,359.6" fill="none" stroke="#ee3c3c" stroke-width="1"/><path d="M77.4,36.5a2.6,2.6 0 1,0 5.2,0a2.6,2.6 0 1,0 -5.2,0zM78.4,36.7a2.6,2.6 0 1,0 5.2,0a2.6,2.6 0 1,0 -5.2,0zM79.4,35.5a2.6,2.6 0 1,0 5.2,0a2.6,2.6 0 1,0 -5.2,0zM80.4,35.8a2.6,2.6 0 1,0 5.2,0a2.6,2.6 0 1,0 -5.2,0zM81.4,37.3a2.6,2.6 0 1,0 5.2,0a2.6,2.6 0 1,0 -5.2,0zM82.4,37.4a2.6,2.6 0 1,0 5.2,0a2.6,2.6 0 1,0 -5.2,0zM83.4,37.5a2.6,2.6 0 1,0 5.2,0a2.6,2.6 0 1,0 -5.2,0zM84.4,37.2a2.6,2.6 0 1,0 5.2,0a2.6,2.6 0 1,0 -5.2,0zM85.4,38a2.6,2.6 0 1,0 5.2,0a2.6,2.6 0 1,0 -5.2,0zM86.4,38.2a2.6,2.6 0 1,0 5.2,0a2.6,2.6 0 1,0 -5.2,0zM87.4,38.4a2.6,2.6 0 1,0 5.2,0a2.6,2.6 0 1,0 -5.2,0zM88.4,38a2.6,2.6 0 1,0 5.2,0a2.6,2.6 0 1,0 -5.2,0zM89.4,38.7a2.6,2.6 0 1,0 5.2,0a2.6,2.6 0 1,0 -5.2,0zM90.4,38.9a2.6,2.6 0 1,0 5.2,0a2.6,2.6 0 1,0 -5.2,0zM91.4,39.7a2.6,2.6 0 1,0 5.2,0a2.6,2.6 0 1,0 -5.2,0zM92.4,40.4a2.6,2.6 0 1,0 5.2,0a2.6,2.6 0 1,0 -5.2,0zM93.4,40.6a2.6,2.6 0 1,0 5.2,0a2.6,2.6 0 1,0 -5.2,0zM94.4,40.2a2.6,2.6 0 1,0 5.2,0a2.6,2.6 0 1,0 -5.2,0zM95.4,40.3a2.6,2.6 0 1,0 5.2,0a2.6,2.6 0 1,0 -5.2,0zM96.4,40.3a2.6,2.6 0 1,0 5.2,0a2.6,2.6 0 1,0 -5.2,0zM97.4,40.3a2.6,2.6 0 1,0 5.2,0a2.6,2.6 0 1,0 -5.2,0zM98.4,40.6a2.6,2.6 0 1,0 5.2,0a2.6,2.6 0 1,0 -5.2,0zM99.4,41.6a2.6,2.6 0 1,0 5.2,0a2.6,2.6 0 1,0 -5.2,0zM100.4,41.7a2.6,2.6 0 1,0 5.2,0a2.6,2.6 0 1,0 -5.2,0zM101.4,42.2a2.6,2.6 0 1,0 5.2,0a2.6,2.6 0 1,0 -5.2,0zM102.4,43.4a2.6,2.6 0 1,0 5.2,0a2.6,2.6 0 1,0 -5.2,0zM103.4,43.1a2.6,2.6 0 1,0 5.2,0a2.6,2.6 0 1,0 -5.2,0zM104.4,43.6a2.6,2.6 0 1,0 5.2,0a2.6,2.6 0 1,0 -5.2,0zM105.4,43.5a2.6,2.6 0 1,0 5.2,0a2.6,2.6 0 1,0 -5.2,0zM106.4,43.6a2.6,2.6 0 1,0 5.2,0a2.6,2.6 0 1,0 -5.2,0zM107.4,44.5a2.6,2.6 0 1,0 5.2,0a2.6,2.6 0 1,0 -5.2,0zM108.4,44.7a2.6,2.6 0 1,0 5.2,0a2.6,2.6 0 1,0 -5.2,0zM109.4,45.8a2.6,2.6 0 1,0 5.2,0a2.6,2.6 0 1,0 -5.2,0zM110.4,47.1a2.6,2.6 0 1,0 5.2,0a2.6,2.6 0 1,0 -5.2,0zM111.4,47.1a2.6,2.6 0 1,0 5.2,0a2.6,2.6 0 1,0 -5.2,0zM112.4,46.9a2.6,2.6 0 1,0 5.2,0a2.6,2.6 0 1,0 -5.2,0zM113.4,48.6a2.6,2.6 0 1,0 5.2,0a2.6,2.6 0 1,0 -5.2,0zM114.4,49a2.6,2.6 0 1,0 5.2,0a2.6,2.6 0 1,0 -5.2,0zM115.4,49.5a2.6,2.6 0 1,0 5.2,0a2.6,2.6 0 1,0 -5.2,0zM116.4,50.4a2.6,2.6 0 1,0 5.2,0a2.6,2.6 0 1,0 -5.2,0zM117.4,50.7a2.6,2.6 0 1,0 5.2,0a2.6,2.6 0 1,0 -5.2,0zM118.4,51.3a2.6,2.6 0 1,0 5.2,0a2.6,2.6 0 1,0 -5.2,0zM119.4,51.2a2.6,2.6 0 1,0 5.2,0a2.6,2.6 0 1,0 -5.2,0zM120.4,52.8a2.6,2.6 0 1,0 5.2,0a2.6,2.6 0 1,0 -5.2,0zM121.4,53.3a2.6,2.6 0 1,0 5.2,0a2.6,2.6 0 1,0 -5.2,0zM122.4,52.6a2.6,2.6 0 1,0 5.2,0a2.6,2.6 0 1,0 -5.2,0zM123.4,54.1a2.6,2.6 0 1,0 5.2,0a2.6,2.6 0 1,0 -5.2,0zM124.4,54.7a2.6,2.6 0 1,0 5.2,0a2.6,2.6 0 1,0 -5.2,0zM125.4,54.9a2.6,2.6 0 1,0 5.2,0a2.6,2.6 0 1,0 -5.2,0zM126.4,55.7a2.6,2.6 0 1,0 5.2,0a2.6,2.6 0 1,0 -5.2,0zM127.4,56.4a2.6,2.6 0 1,0 5.2,0a2.6,2.6 0 1,0 -5.2,0zM128.4,57.9a2.6,2.6 0 1,0 5.2,0a2.6,2.6 0 1,0 -5.2,0zM129.4,58a2.6,2.6 0 1,0 5.2,0a2.6,2.6 0 1,0 -5.2,0zM130.4,59.4a2.6,2.6 0 1,0 5.2,0a2.6,2.6 0 1,0 -5.2,0zM131.4,59.5a2.6,2.6 0 1,0 5.2,0a2.6,2.6 0 1,0 -5.2,0zM132.4,61.2a2.6,2.6 0 1,0 5.2,0a2.6,2.6 0 1,0 -5.2,0zM133.4,62.2a2.6,2.6 0 1,0 5.2,0a2.6,2.6 0 1,0 -5.2,0zM134.4,62.5a2.6,2.6 0 1,0 5.2,0a2.6,2.6 0 1,0 -5.2,0zM135.4,63.7a2.6,2.6 0 1,0 5.2,0a2.6,2.6 0 1,0 -5.2,0zM136.4,65.4a2.6,2.6 0 1,0 5.2,0a2.6,2.6 0 1,0 -5.2,0zM137.4,66.2a2.6,2.6 0 1,0 5.2,0a2.6,2.6 0 1,0 -5.2,0zM138.4,67a2.6,2.6 0 1,0 5.2,0a2.6,2.6 0 1,0 -5.2,0zM139.4,67.8a2.6,2.6 0 1,0 5.2,0a2.6,2.6 0 1,0 -5.2,0zM140.4,69.2a2.6,2.6 0 1,0 5.2,0a2.6,2.6 0 1,0 -5.2,0zM141.4,71.1a2.6,2.6 0 1,0 5.2,0a2.6,2.6 0 1,0 -5.2,0zM142.4,71.6a2.6,2.6 0 1,0 5.2,0a2.6,2.6 0 1,0 -5.2,0zM143.4,74.2a2.6,2.6 0 1,0 5.2,0a2.6,2.6 0 1,0 -5.2,0zM144.4,74.5a2.6,2.6 0 1,0 5.2,0a2.6,2.6 0 1,0 -5.2,0zM145.4,77a2.6,2.6 0 1,0 5.2,0a2.6,2.6 0 1,0 -5.2,0zM146.4,77.4a2.6,2.6 0 1,0 5.2,0a2.6,2.6 0 1,0 -5.2,0zM147.4,79.9a2.6,2.6 0 1,0 5.2,0a2.6,2.6 0 1,0 -5.2,0zM148.4,80.9a2.6,2.6 0 1,0 5.2,0a2.6,2.6 0 1,0 -5.2,0zM149.4,82a2.6,2.6 0 1,0 5.2,0a2.6,2.6 0 1,0 -5.2,0zM150.4,83.5a2.6,2.6 0 1,0 5.2,0a2.6,2.6 0 1,0 -5.2,0zM151.4,85.3a2.6,2.6 0 1,0 5.2,0a2.6,2.6 0 1,0 -5.2,0zM152.4,86.8a2.6,2.6 0 1,0 5.2,0a2.6,2.6 0 1,0 -5.2,0zM153.4,87.9a2.6,2.6 0 1,0 5.2,0a2.6,2.6 0 1,0 -5.2,0zM154.4,89.3a2.6,2.6 0 1,0 5.2,0a2.6,2.6 0 1,0 -5.2,0zM155.4,91.4a2.6,2.6 0 1,0 5.2,0a2.6,2.6 0 1,0 -5.2,0zM156.4,93.6a2.6,2.6 0 1,0 5.2,0a2.6,2.6 0 1,0 -5.2,0zM157.4,94.7a2.6,2.6 0 1,0 5.2,0a2.6,2.6 0 1,0 -5.2,0zM158.4,95.5a2.6,2.6 0 1,0 5.2,0a2.6,2.6 0 1,0 -5.2,0zM159.4,98.3a2.6,2.6 0 1,0 5.2,0a2.6,2.6 0 1,0 -5.2,0zM160.4,99.7a2.6,2.6 0 1,0 5.2,0a2.6,2.6 0 1,0 -5.2,0zM161.4,101.6a2.6,2.6 0 1,0 5.2,0a2.6,2.6 0 1,0 -5.2,0zM162.4,102.1a2.6,2.6 0 1,0 5.2,0a2.6,2.6 0 1,0 -5.2,0zM163.4,104.6a2.6,2.6 0 1,0 5.2,0a2.6,2.6 0 1,0 -5.2,0zM164.4,105.1a2.6,2.6 0 1,0 5.2,0a2.6,2.6 0 1,0 -5.2,0zM165.4,107.6a2.6,2.6 0 1,0 5.2,0a2.6,2.6 0 1,0 -5.2,0zM166.4,108.6a2.6,2.6 0 1,0 5.2,0a2.6,2.6 0 1,0 -5.2,0zM167.4,110.1a2.6,2.6 0 1,0 5.2,0a2.6,2.6 0 1,0 -5.2,0zM168.4,112.8a2.6,2.6 0 1,0 5.2,0a2.6,2.6 0 1,0 -5.2,0zM169.4,113.3a2.6,2.6 0 1,0 5.2,0a2.6,2.6 0 1,0 -5.2,0zM170.4,115.7a2.6,2.6 0 1,0 5.2,0a2.6,2.6 0 1,0 -5.2,0zM171.4,118a2.6,2.6 0 1,0 5.2,0a2.6,2.6 0 1,0 -5.2,0zM172.4,118.8a2.6,2.6 0 1,0 5.2,0a2.6,2.6 0 1,0 -5.2,0zM173.4,120.5a2.6,2.6 0 1,0 5.2,0a2.6,2.6 0 1,0 -5.2,0zM174.4,123.4a2.6,2.6 0 1,0 5.2,0a2.6,2.6 0 1,0 -5.2,0zM175.4,124.4a2.6,2.6 0 1,0 5.2,0a2.6,2.6 0 1,0 -5.2,0zM176.4,126.5a2.6,2.6 0 1,0 5.2,0a2.6,2.6 0 1,0 -5.2,0zM177.4,127a2.6,2.6 0 1,0 5.2,0a2.6,2.6 0 1,0 -5.2,0zM178.4,129.1a2.6,2.6 0 1,0 5.2,0a2.6,2.6 0 1,0 -5.2,0zM179.4,130.3a2.6,2.6 0 1,0 5.2,0a2.6,2.6 0 1,0 -5.2,0zM180.4,132.7a2.6,2.6 0 1,0 5.2,0a2.6,2.6 0 1,0 -5.2,0zM181.4,133.5a2.6,2.6 0 1,0 5.2,0a2.6,2.6 0 1,0 -5.2,0zM182.4,136.6a2.6,2.6 0 1,0 5.2,0a2.6,2.6 0 1,0 -5.2,0zM183.4,137a2.6,2.6 0 1,0 5.2,0a2.6,2.6 0 1,0 -5.2,0zM184.4,140a2.6,2.6 0 1,0 5.2,0a2.6,2.6 0 1,0 -5.2,0zM185.4,140.8a2.6,2.6 0 1,0 5.2,0a2.6,2.6 0 1,0 -5.2,0zM186.4,143.2a2.6,2.6 0 1,0 5.2,0a2.6,2.6 0 1,0 -5.2,0zM187.4,146.3a2.6,2.6 0 1,0 5.2,0a2.6,2.6 0 1,0 -5.2,0zM188.4,147.9a2.6,2.6 0 1,0 5.2,0a2.6,2.6 0 1,0 -5.2,0zM189.4,151.8a2.6,2.6 0 1,0 5.2,0a2.6,2.6 0 1,0 -5.2,0zM190.4,156.3a2.6,2.6 0 1,0 5.2,0a2.6,2.6 0 1,0 -5.2,0zM191.4,158.1a2.6,2.6 0 1,0 5.2,0a2.6,2.6 0 1,0 -5.2,0zM192.4,159.5a2.6,2.6 0 1,0 5.2,0a2.6,2.6 0 1,0 -5.2,0zM193.4,162.7a2.6,2.6 0 1,0 5.2,0a2.6,2.6 0 1,0 -5.2,0zM194.4,163a2.6,2.6 0 1,0 5.2,0a2.6,2.6 0 1,0 -5.2,0zM195.4,164.3a2.6,2.6 0 1,0 5.2,0a2.6,2.6 0 1,0 -5.2,0zM196.4,166.3a2.6,2.6 0 1,0 5.2,0a2.6,2.6 0 1,0 -5.2,0zM197.4,168.1a2.6,2.6 0 1,0 5.2,0a2.6,2.6 0 1,0 -5.2,0zM198.4,169.7a2.6,2.6 0 1,0 5.2,0a2.6,2.6 0 1,0 -5.2,0zM199.4,169.9a2.6,2.6 0 1,0 5.2,0a2.6,2.6 0 1,0 -5.2,0zM200.4,171.5a2.6,2.6 0 1,0 5.2,0a2.6,2.6 0 1,0 -5.2,0zM201.4,172a2.6,2.6 0 1,0 5.2,0a2.6,2.6 0 1,0 -5.2,0zM202.4,173.6a2.6,2.6 0 1,0 5.2,0a2.6,2.6 0 1,0 -5.2,0zM203.4,174.9a2.6,2.6 0 1,0 5.2,0a2.6,2.6 0 1,0 -5.2,0zM204.4,175.6a2.6,2.6 0 1,0 5.2,0a2.6,2.6 0 1,0 -5.2,0zM205.4,176.5a2.6,2.6 0 1,0 5.2,0a2.6,2.6 0 1,0 -5.2,0zM206.4,176.8a2.6,2.6 0 1,0 5.2,0a2.6,2.6 0 1,0 -5.2,0zM207.4,177.4a2.6,2.6 0 1,0 5.2,0a2.6,2.6 0 1,0 -5.2,0zM208.4,177.6a2.6,2.6 0 1,0 5.2,0a2.6,2.6 0 1,0 -5.2,0zM209.4,177.6a2.6,2.6 0 1,0 5.2,0a2.6,2.6 0 1,0 -5.2,0zM210.4,177.5a2.6,2.6 0 1,0 5.2,0a2.6,2.6 0 1,0 -5.2,0zM211.4,178.4a2.6,2.6 0 1,0 5.2,0a2.6,2.6 0 1,0 -5.2,0zM212.4,178a2.6,2.6 0 1,0 5.2,0a2.6,2.6 0 1,0 -5.2,0zM213.4,177.8a2.6,2.6 0 1,0 5.2,0a2.6,2.6 0 1,0 -5.2,0zM214.4,178.5a2.6,2.6 0 1,0 5.2,0a2.6,2.6 0 1,0 -5.2,0zM215.4,179.3a2.6,2.6 0 1,0 5.2,0a2.6,2.6 0 1,0 -5.2,0zM216.4,178.3a2.6,2.6 0 1,0 5.2,0a2.6,2.6 0 1,0 -5.2,0zM217.4,179.2a2.6,2.6 0 1,0 5.2,0a2.6,2.6 0 1,0 -5.2,0zM218.4,179.1a2.6,2.6 0 1,0 5.2,0a2.6,2.6 0 1,0 -5.2,0zM219.4,179.5a2.6,2.6 0 1,0 5.2,0a2.6,2.6 0 1,0 -5.2,0zM220.4,179a2.6,2.6 0 1,0 5.2,0a2.6,2.6 0 1,0 -5.2,0zM221.4,180.7a2.6,2.6 0 1,0 5.2,0a2.6,2.6 0 1,0 -5.2,0zM222.4,179.6a2.6,2.6 0 1,0 5.2,0a2.6,2.6 0 1,0 -5.2,0zM223.4,180.4a2.6,2.6 0 1,0 5.2,0a2.6,2.6 0 1,0 -5.2,0zM224.4,180.2a2.6,2.6 0 1,0 5.2,0a2.6,2.6 0 1,0 -5.2,0zM225.4,179.6a2.6,2.6 0 1,0 5.2,0a2.6,2.6 0 1,0 -5.2,0zM226.4,180.8a2.6,2.6 0 1,0 5.2,0a2.6,2.6 0 1,0 -5.2,0zM227.4,180.1a2.6,2.6 0 1,0 5.2,0a2.6,2.6 0 1,0 -5.2,0zM228.4,180a2.6,2.6 0 1,0 5.2,0a2.6,2.6 0 1,0 -5.2,0zM229.4,180.1a2.6,2.6 0 1,0 5.2,0a2.6,2.6 0 1,0 -5.2,0zM230.4,180.5a2.6,2.6 0 1,0 5.2,0a2.6,2.6 0 1,0 -5.2,0zM231.4,180.4a2.6,2.6 0 1,0 5.2,0a2.6,2.6 0 1,0 -5.2,0zM232.4,181.6a2.6,2.6 0 1,0 5.2,0a2.6,2.6 0 1,0 -5.2,0zM233.4,181.5a2.6,2.6 0 1,0 5.2,0a2.6,2.6 0 1,0 -5.2,0zM234.4,182.5a2.6,2.6 0 1,0 5.2,0a2.6,2.6 0 1,0 -5.2,0zM235.4,182.5a2.6,2.6 0 1,0 5.2,0a2.6,2.6 0 1,0 -5.2,0zM236.4,182.8a2.6,2.6 0 1,0 5.2,0a2.6,2.6 0 1,0 -5.2,0zM237.4,181.3a2.6,2.6 0 1,0 5.2,0a2.6,2.6 0 1,0 -5.2,0zM238.4,181.8a2.6,2.6 0 1,0 5.2,0a2.6,2.6 0 1,0 -5.2,0zM239.4,181.5a2.6,2.6 0 1,0 5.2,0a2.6,2.6 0 1,0 -5.2,0zM240.4,182.3a2.6,2.6 0 1,0 5.2,0a2.6,2.6 0 1,0 -5.2,0zM241.4,182.5a2.6,2.6 0 1,0 5.2,0a2.6,2.6 0 1,0 -5.2,0zM242.4,182.9a2.6,2.6 0 1,0 5.2,0a2.6,2.6 0 1,0 -5.2,0zM243.4,182.8a2.6,2.6 0 1,0 5.2,0a2.6,2.6 0 1,0 -5.2,0zM244.4,182a2.6,2.6 0 1,0 5.2,0a2.6,2.6 0 1,0 -5.2,0zM245.4,182.4a2.6,2.6 0 1,0 5.2,0a2.6,2.6 0 1,0 -5.2,0zM246.4,182.7a2.6,2.6 0 1,0 5.2,0a2.6,2.6 0 1,0 -5.2,0zM247.4,181.7a2.6,2.6 0 1,0 5.2,0a2.6,2.6 0 1,0 -5.2,0zM248.4,181.8a2.6,2.6 0 1,0 5.2,0a2.6,2.6 0 1,0 -5.2,0zM249.4,182.7a2.6,2.6 0 1,0 5.2,0a2.6,2.6 0 1,0 -5.2,0zM250.4,182.1a2.6,2.6 0 1,0 5.2,0a2.6,2.6 0 1,0 -5.2,0zM251.4,183.4a2.6,2.6 0 1,0 5.2,0a2.6,2.6 0 1,0 -5.2,0zM252.4,182.5a2.6,2.6 0 1,0 5.2,0a2.6,2.6 0 1,0 -5.2,0zM253.4,182.3a2.6,2.6 0 1,0 5.2,0a2.6,2.6 0 1,0 -5.2,0zM254.4,182.5a2.6,2.6 0 1,0 5.2,0a2.6,2.6 0 1,0 -5.2,0zM255.4,182.6a2.6,2.6 0 1,0 5.2,0a2.6,2.6 0 1,0 -5.2,0zM256.4,182.7a2.6,2.6 0 1,0 5.2,0a2.6,2.6 0 1,0 -5.2,0zM257.4,183.3a2.6,2.6 0 1,0 5.2,0a2.6,2.6 0 1,0 -5.2,0zM258.4,183.3a2.6,2.6 0 1,0 5.2,0a2.6,2.6 0 1,0 -5.2,0zM259.4,183a2.6,2.6 0 1,0 5.2,0a2.6,2.6 0 1,0 -5.2,0zM260.4,183.7a2.6,2.6 0 1,0 5.2,0a2.6,2.6 0 1,0 -5.2,0zM261.4,182.9a2.6,2.6 0 1,0 5.2,0a2.6,2.6 0 1,0 -5.2,0zM262.4,184.3a2.6,2.6 0 1,0 5.2,0a2.6,2.6 0 1,0 -5.2,0zM263.4,184.5a2.6,2.6 0 1,0 5.2,0a2.6,2.6 0 1,0 -5.2,0zM264.4,184.1a2.6,2.6 0 1,0 5.2,0a2.6,2.6 0 1,0 -5.2,0zM265.4,183.6a2.6,2.6 0 1,0 5.2,0a2.6,2.6 0 1,0 -5.2,0zM266.4,183.8a2.6,2.6 0 1,0 5.2,0a2.6,2.6 0 1,0 -5.2,0zM267.4,184a2.6,2.6 0 1,0 5.2,0a2.6,2.6 0 1,0 -5.2,0zM268.4,183a2.6,2.6 0 1,0 5.2,0a2.6,2.6 0 1,0 -5.2,0zM269.4,183.8a2.6,2.6 0 1,0 5.2,0a2.6,2.6 0 1,0 -5.2,0zM270.4,184.1a2.6,2.6 0 1,0 5.2,0a2.6,2.6 0 1,0 -5.2,0zM271.4,183.5a2.6,2.6 0 1,0 5.2,0a2.6,2.6 0 1,0 -5.2,0zM272.4,183.4a2.6,2.6 0 1,0 5.2,0a2.6,2.6 0 1,0 -5.2,0zM273.4,184.9a2.6,2.6 0 1,0 5.2,0a2.6,2.6 0 1,0 -5.2,0zM274.4,184.2a2.6,2.6 0 1,0 5.2,0a2.6,2.6 0 1,0 -5.2,0zM275.4,184.6a2.6,2.6 0 1,0 5.2,0a2.6,2.6 0 1,0 -5.2,0zM276.4,185.5a2.6,2.6 0 1,0 5.2,0a2.6,2.6 0 1,0 -5.2,0zM277.4,185.1a2.6,2.6 0 1,0 5.2,0a2.6,2.6 0 1,0 -5.2,0zM278.4,184.7a2.6,2.6 0 1,0 5.2,0a2.6,2.6 0 1,0 -5.2,0zM279.4,186.1a2.6,2.6 0 1,0 5.2,0a2.6,2.6 0 1,0 -5.2,0zM280.4,185.2a2.6,2.6 0 1,0 5.2,0a2.6,2.6 0 1,0 -5.2,0zM281.4,184.9a2.6,2.6 0 1,0 5.2,0a2.6,2.6 0 1,0 -5.2,0zM282.4,186.2a2.6,2.6 0 1,0 5.2,0a2.6,2.6 0 1,0 -5.2,0zM283.4,185.6a2.6,2.6 0 1,0 5.2,0a2.6,2.6 0 1,0 -5.2,0zM284.4,186.2a2.6,2.6 0 1,0 5.2,0a2.6,2.6 0 1,0 -5.2,0zM285.4,187.3a2.6,2.6 0 1,0 5.2,0a2.6,2.6 0 1,0 -5.2,0zM286.4,187.3a2.6,2.6 0 1,0 5.2,0a2.6,2.6 0 1,0 -5.2,0zM287.4,186.5a2.6,2.6 0 1,0 5.2,0a2.6,2.6 0 1,0 -5.2,0zM288.4,187.5a2.6,2.6 0 1,0 5.2,0a2.6,2.6 0 1,0 -5.2,0zM289.4,187.7a2.6,2.6 0 1,0 5.2,0a2.6,2.6 0 1,0 -5.2,0zM290.4,188.2a2.6,2.6 0 1,0 5.2,0a2.6,2.6 0 1,0 -5.2,0zM291.4,188.2a2.6,2.6 0 1,0 5.2,0a2.6,2.6 0 1,0 -5.2,0zM292.4,189.1a2.6,2.6 0 1,0 5.2,0a2.6,2.6 0 1,0 -5.2,0zM293.4,188.7a2.6,2.6 0 1,0 5.2,0a2.6,2.6 0 1,0 -5.2,0zM294.4,189.3a2.6,2.6 0 1,0 5.2,0a2.6,2.6 0 1,0 -5.2,0zM295.4,189.8a2.6,2.6 0 1,0 5.2,0a2.6,2.6 0 1,0 -5.2,0zM296.4,191a2.6,2.6 0 1,0 5.2,0a2.6,2.6 0 1,0 -5.2,0zM297.4,189.9a2.6,2.6 0 1,0 5.2,0a2.6,2.6 0 1,0 -5.2,0zM298.4,191.4a2.6,2.6 0 1,0 5.2,0a2.6,2.6 0 1,0 -5.2,0zM299.4,190.8a2.6,2.6 0 1,0 5.2,0a2.6,2.6 0 1,0 -5.2,0zM300.4,191.7a2.6,2.6 0 1,0 5.2,0a2.6,2.6 0 1,0 -5.2,0zM301.4,191.8a2.6,2.6 0 1,0 5.2,0a2.6,2.6 0 1,0 -5.2,0zM302.4,192.3a2.6,2.6 0 1,0 5.2,0a2.6,2.6 0 1,0 -5.2,0zM303.4,193.3a2.6,2.6 0 1,0 5.2,0a2.6,2.6 0 1,0 -5.2,0zM304.4,193.2a2.6,2.6 0 1,0 5.2,0a2.6,2.6 0 1,0 -5.2,0zM305.4,193.3a2.6,2.6 0 1,0 5.2,0a2.6,2.6 0 1,0 -5.2,0zM306.4,194a2.6,2.6 0 1,0 5.2,0a2.6,2.6 0 1,0 -5.2,0zM307.4,194.6a2.6,2.6 0 1,0 5.2,0a2.6,2.6 0 1,0 -5.2,0zM308.4,196.7a2.6,2.6 0 1,0 5.2,0a2.6,2.6 0 1,0 -5.2,0zM309.4,197.2a2.6,2.6 0 1,0 5.2,0a2.6,2.6 0 1,0 -5.2,0zM310.4,198.6a2.6,2.6 0 1,0 5.2,0a2.6,2.6 0 1,0 -5.2,0zM311.4,199.2a2.6,2.6 0 1,0 5.2,0a2.6,2.6 0 1,0 -5.2,0zM312.4,199.2a2.6,2.6 0 1,0 5.2,0a2.6,2.6 0 1,0 -5.2,0zM313.4,201.5a2.6,2.6 0 1,0 5.2,0a2.6,2.6 0 1,0 -5.2,0zM314.4,203.2a2.6,2.6 0 1,0 5.2,0a2.6,2.6 0 1,0 -5.2,0zM315.4,205a2.6,2.6 0 1,0 5.2,0a2.6,2.6 0 1,0 -5.2,0zM316.4,206.6a2.6,2.6 0 1,0 5.2,0a2.6,2.6 0 1,0 -5.2,0zM317.4,208.5a2.6,2.6 0 1,0 5.2,0a2.6,2.6 0 1,0 -5.2,0zM318.4,210.8a2.6,2.6 0 1,0 5.2,0a2.6,2.6 0 1,0 -5.2,0zM319.4,213.5a2.6,2.6 0 1,0 5.2,0a2.6,2.6 0 1,0 -5.2,0zM320.4,214.9a2.6,2.6 0 1,0 5.2,0a2.6,2.6 0 1,0 -5.2,0zM321.4,217.7a2.6,2.6 0 1,0 5.2,0a2.6,2.6 0 1,0 -5.2,0zM322.4,220a2.6,2.6 0 1,0 5.2,0a2.6,2.6 0 1,0 -5.2,0zM323.4,223.7a2.6,2.6 0 1,0 5.2,0a2.6,2.6 0 1,0 -5.2,0zM324.4,227.5a2.6,2.6 0 1,0 5.2,0a2.6,2.6 0 1,0 -5.2,0zM325.4,232.3a2.6,2.6 0 1,0 5.2,0a2.6,2.6 0 1,0 -5.2,0zM326.4,237a2.6,2.6 0 1,0 5.2,0a2.6,2.6 0 1,0 -5.2,0zM327.4,241.3a2.6,2.6 0 1,0 5.2,0a2.6,2.6 0 1,0 -5.2,0zM328.4,246.3a2.6,2.6 0 1,0 5.2,0a2.6,2.6 0 1,0 -5.2,0zM329.4,251.7a2.6,2.6 0 1,0 5.2,0a2.6,2.6 0 1,0 -5.2,0zM330.4,255.8a2.6,2.6 0 1,0 5.2,0a2.6,2.6 0 1,0 -5.2,0zM331.4,260.1a2.6,2.6 0 1,0 5.2,0a2.6,2.6 0 1,0 -5.2,0zM332.4,264.4a2.6,2.6 0 1,0 5.2,0a2.6,2.6 0 1,0 -5.2,0zM333.4,268.6a2.6,2.6 0 1,0 5.2,0a2.6,2.6 0 1,0 -5.2,0zM334.4,272.1a2.6,2.6 0 1,0 5.2,0a2.6,2.6 0 1,0 -5.2,0zM335.4,277.3a2.6,2.6 0 1,0 5.2,0a2.6,2.6 0 1,0 -5.2,0zM336.4,281.3a2.6,2.6 0 1,0 5.2,0a2.6,2.6 0 1,0 -5.2,0zM337.4,285.8a2.6,2.6 0 1,0 5.2,0a2.6,2.6 0 1,0 -5.2,0zM338.4,290a2.6,2.6 0 1,0 5.2,0a2.6,2.6 0 1,0 -5.2,0zM339.4,291.5a2.6,2.6 0 1,0 5.2,0a2.6,2.6 0 1,0 -5.2,0zM340.4,294.6a2.6,2.6 0 1,0 5.2,0a2.6,2.6 0 1,0 -5.2,0zM341.4,296.7a2.6,2.6 0 1,0 5.2,0a2.6,2.6 0 1,0 -5.2,0zM342.4,299.3a2.6,2.6 0 1,0 5.2,0a2.6,2.6 0 1,0 -5.2,0zM343.4,303.2a2.6,2.6 0 1,0 5.2,0a2.6,2.6 0 1,0 -5.2,0zM344.4,305.8a2.6,2.6 0 1,0 5.2,0a2.6,2.6 0 1,0 -5.2,0zM345.4,307.7a2.6,2.6 0 1,0 5.2,0a2.6,2.6 0 1,0 -5.2,0zM346.4,309.3a2.6,2.6 0 1,0 5.2,0a2.6,2.6 0 1,0 -5.2,0zM347.4,312.1a2.6,2.6 0 1,0 5.2,0a2.6,2.6 0 1,0 -5.2,0zM348.4,314.6a2.6,2.6 0 1,0 5.2,0a2.6,2.6 0 1,0 -5.2,0zM349.4,318.3a2.6,2.6 0 1,0 5.2,0a2.6,2.6 0 1,0 -5.2,0zM350.4,322.3a2.6,2.6 0 1,0 5.2,0a2.6,2.6 0 1,0 -5.2,0zM351.4,325.2a2.6,2.6 0 1,0 5.2,0a2.6,2.6 0 1,0 -5.2,0zM352.4,329a2.6,2.6 0 1,0 5.2,0a2.6,2.6 0 1,0 -5.2,0zM353.4,334.7a2.6,2.6 0 1,0 5.2,0a2.6,2.6 0 1,0 -5.2,0zM354.4,341.8a2.6,2.6 0 1,0 5.2,0a2.6,2.6 0 1,0 -5.2,0zM355.4,347.7a2.6,2.6 0 1,0 5.2,0a2.6,2.6 0 1,0 -5.2,0zM356.4,351.4a2.6,2.6 0 1,0 5.2,0a2.6,2.6 0 1,0 -5.2,0zM357.4,354.7a2.6,2.6 0 1,0 5.2,0a2.6,2.6 0 1,0 -5.2,0zM358.4,357a2.6,2.6 0 1,0 5.2,0a2.6,2.6 0 1,0 -5.2,0zM359.4,358.3a2.6,2.6 0 1,0 5.2,0a2.6,2.6 0 1,0 -5.2,0zM360.4,358.3a2.6,2.6 0 1,0 5.2,0a2.6,2.6 0 1,0 -5.2,0zM361.4,360a2.6,2.6 0 1,0 5.2,0a2.6,2.6 0 1,0 -5.2,0zM362.4,359.8a2.6,2.6 0 1,0 5.2,0a2.6,2.6 0 1,0 -5.2,0zM363.4,360.6a2.6,2.6 0 1,0 5.2,0a2.6,2.6 0 1,0 -5.2,0zM364.4,360.5a2.6,2.6 0 1,0 5.2,0a2.6,2.6 0 1,0 -5.2,0zM365.4,361.8a2.6,2.6 0 1,0 5.2,0a2.6,2.6 0 1,0 -5.2,0zM366.4,361.7a2.6,2.6 0 1,0 5.2,0a2.6,2.6 0 1,0 -5.2,0zM367.4,361.6a2.6,2.6 0 1,0 5.2,0a2.6,2.6 0 1,0 -5.2,0zM368.4,361.1a2.6,2.6 0 1,0 5.2,0a2.6,2.6 0 1,0 -5.2,0zM369.4,361.8a2.6,2.6 0 1,0 5.2,0a2.6,2.6 0 1,0 -5.2,0zM370.4,361.3a2.6,2.6 0 1,0 5.2,0a2.6,2.6 0 1,0 -5.2,0zM371.4,362.3a2.6,2.6 0 1,0 5.2,0a2.6,2.6 0 1,0 -5.2,0zM372.4,362.9a2.6,2.6 0 1,0 5.2,0a2.6,2.6 0 1,0 -5.2,0zM373.4,361.9a2.6,2.6 0 1,0 5.2,0a2.6,2.6 0 1,0 -5.2,0zM374.4,362.6a2.6,2.6 0 1,0 5.2,0a2.6,2.6 0 1,0 -5.2,0zM375.4,362.7a2.6,2.6 0 1,0 5.2,0a2.6,2.6 0 1,0 -5.2,0zM376.4,362.7a2.6,2.6 0 1,0 5.2,0a2.6,2.6 0 1,0 -5.2,0zM377.4,363.3a2.6,2.6 0 1,0 5.2,0a2.6,2.6 0 1,0 -5.2,0zM378.4,363.9a2.6,2.6 0 1,0 5.2,0a2.6,2.6 0 1,0 -5.2,0zM379.4,363.7a2.6,2.6 0 1,0 5.2,0a2.6,2.6 0 1,0 -5.2,0zM380.4,363.5a2.6,2.6 0 1,0 5.2,0a2.6,2.6 0 1,0 -5.2,0zM381.4,364.4a2.6,2.6 0 1,0 5.2,0a2.6,2.6 0 1,0 -5.2,0zM382.4,363.6a2.6,2.6 0 1,0 5.2,0a2.6,2.6 0 1,0 -5.2,0zM383.4,364.5a2.6,2.6 0 1,0 5.2,0a2.6,2.6 0 1,0 -5.2,0zM384.4,364.5a2.6,2.6 0 1,0 5.2,0a2.6,2.6 0 1,0 -5.2,0zM385.4,364.9a2.6,2.6 0 1,0 5.2,0a2.6,2.6 0 1,0 -5.2,0zM386.4,365.2a2.6,2.6 0 1,0 5.2,0a2.6,2.6 0 1,0 -5.2,0zM387.4,364.4a2.6,2.6 0 1,0 5.2,0a2.6,2.6 0 1,0 -5.2,0zM388.4,365.2a2.6,2.6 0 1,0 5.2,0a2.6,2.6 0 1,0 -5.2,0zM389.4,365a2.6,2.6 0 1,0 5.2,0a2.6,2.6 0 1,0 -5.2,0zM390.4,365.6a2.6,2.6 0 1,0 5.2,0a2.6,2.6 0 1,0 -5.2,0zM391.4,366.2a2.6,2.6 0 1,0 5.2,0a2.6,2.6 0 1,0 -5.2,0zM392.4,365.9a2.6,2.6 0 1,0 5.2,0a2.6,2.6 0 1,0 -5.2,0zM393.4,365a2.6,2.6 0 1,0 5.2,0a2.6,2.6 0 1,0 -5.2,0zM394.4,365.9a2.6,2.6 0 1,0 5.2,0a2.6,2.6 0 1,0 -5.2,0zM395.4,366.4a2.6,2.6 0 1,0 5.2,0a2.6,2.6 0 1,0 -5.2,0zM396.4,366.9a2.6,2.6 0 1,0 5.2,0a2.6,2.6 0 1,0 -5.2,0zM397.4,366.6a2.6,2.6 0 1,0 5.2,0a2.6,2.6 0 1,0 -5.2,0zM398.4,367a2.6,2.6 0 1,0 5.2,0a2.6,2.6 0 1,0 -5.2,0zM399.4,365.9a2.6,2.6 0 1,0 5.2,0a2.6,2.6 0 1,0 -5.2,0zM400.4,367.5a2.6,2.6 0 1,0 5.2,0a2.6,2.6 0 1,0 -5.2,0zM401.4,367.3a2.6,2.6 0 1,0 5.2,0a2.6,2.6 0 1,0 -5.2,0zM402.4,367.2a2.6,2.6 0 1,0 5.2,0a2.6,2.6 0 1,0 -5.2,0zM403.4,367.8a2.6,2.6 0 1,0 5.2,0a2.6,2.6 0 1,0 -5.2,0zM404.4,367.9a2.6,2.6 0 1,0 5.2,0a2.6,2.6 0 1,0 -5.2,0zM405.4,366.8a2.6,2.6 0 1,0 5.2,0a2.6,2.6 0 1,0 -5.2,0zM406.4,368a2.6,2.6 0 1,0 5.2,0a2.6,2.6 0 1,0 -5.2,0zM407.4,368.1a2.6,2.6 0 1,0 5.2,0a2.6,2.6 0 1,0 -5.2,0zM408.4,367.3a2.6,2.6 0 1,0 5.2,0a2.6,2.6 0 1,0 -5.2,0zM409.4,368.3a2.6,2.6 0 1,0 5.2,0a2.6,2.6 0 1,0 -5.2,0zM410.4,368.1a2.6,2.6 0 1,0 5.2,0a2.6,2.6 0 1,0 -5.2,0zM411.4,367.6a2.6,2.6 0 1,0 5.2,0a2.6,2.6 0 1,0 -5.2,0zM412.4,368.7a2.6,2.6 0 1,0 5.2,0a2.6,2.6 0 1,0 -5.2,0zM413.4,367.7a2.6,2.6 0 1,0 5.2,0a2.6,2.6 0 1,0 -5.2,0zM414.4,368.6a2.6,2.6 0 1,0 5.2,0a2.6,2.6 0 1,0 -5.2,0zM415.4,368.4a2.6,2.6 0 1,0 5.2,0a2.6,2.6 0 1,0 -5.2,0zM416.4,368.3a2.6,2.6 0 1,0 5.2,0a2.6,2.6 0 1,0 -5.2,0zM417.4,368.9a2.6,2.6 0 1,0 5.2,0a2.6,2.6 0 1,0 -5.2,0zM418.4,368.8a2.6,2.6 0 1,0 5.2,0a2.6,2.6 0 1,0 -5.2,0zM419.4,368.5a2.6,2.6 0 1,0 5.2,0a2.6,2.6 0 1,0 -5.2,0zM420.4,369.9a2.6,2.6 0 1,0 5.2,0a2.6,2.6 0 1,0 -5.2,0zM421.4,368.6a2.6,2.6 0 1,0 5.2,0a2.6,2.6 0 1,0 -5.2,0zM422.4,368.6a2.6,2.6 0 1,0 5.2,0a2.6,2.6 0 1,0 -5.2,0zM423.4,369.5a2.6,2.6 0 1,0 5.2,0a2.6,2.6 0 1,0 -5.2,0zM424.4,370.1a2.6,2.6 0 1,0 5.2,0a2.6,2.6 0 1,0 -5.2,0zM425.4,370a2.6,2.6 0 1,0 5.2,0a2.6,2.6 0 1,0 -5.2,0zM426.4,370.3a2.6,2.6 0 1,0 5.2,0a2.6,2.6 0 1,0 -5.2,0zM427.4,369.9a2.6,2.6 0 1,0 5.2,0a2.6,2.6 0 1,0 -5.2,0zM428.4,370.4a2.6,2.6 0 1,0 5.2,0a2.6,2.6 0 1,0 -5.2,0zM429.4,370a2.6,2.6 0 1,0 5.2,0a2.6,2.6 0 1,0 -5.2,0zM430.4,370a2.6,2.6 0 1,0 5.2,0a2.6,2.6 0 1,0 -5.2,0zM431.4,370.5a2.6,2.6 0 1,0 5.2,0a2.6,2.6 0 1,0 -5.2,0zM432.4,369.8a2.6,2.6 0 1,0 5.2,0a2.6,2.6 0 1,0 -5.2,0zM433.4,370a2.6,2.6 0 1,0 5.2,0a2.6,2.6 0 1,0 -5.2,0zM434.4,371.2a2.6,2.6 0 1,0 5.2,0a2.6,2.6 0 1,0 -5.2,0zM435.4,370.4a2.6,2.6 0 1,0 5.2,0a2.6,2.6 0 1,0 -5.2,0zM436.4,371.5a2.6,2.6 0 1,0 5.2,0a2.6,2.6 0 1,0 -5.2,0zM437.4,371.7a2.6,2.6 0 1,0 5.2,0a2.6,2.6 0 1,0 -5.2,0zM438.4,371.2a2.6,2.6 0 1,0 5.2,0a2.6,2.6 0 1,0 -5.2,0zM439.4,371.7a2.6,2.6 0 1,0 5.2,0a2.6,2.6 0 1,0 -5.2,0zM440.4,372a2.6,2.6 0 1,0 5.2,0a2.6,2.6 0 1,0 -5.2,0zM441.4,372.3a2.6,2.6 0 1,0 5.2,0a2.6,2.6 0 1,0 -5.2,0zM442.4,371.3a2.6,2.6 0 1,0 5.2,0a2.6,2.6 0 1,0 -5.2,0zM443.4,371.4a2.6,2.6 0 1,0 5.2,0a2.6,2.6 0 1,0 -5.2,0zM444.4,371.9a2.6,2.6 0 1,0 5.2,0a2.6,2.6 0 1,0 -5.2,0zM445.4,372.2a2.6,2.6 0 1,0 5.2,0a2.6,2.6 0 1,0 -5.2,0zM446.4,372.1a2.6,2.6 0 1,0 5.2,0a2.6,2.6 0 1,0 -5.2,0zM447.4,371.7a2.6,2.6 0 1,0 5.2,0a2.6,2.6 0 1,0 -5.2,0zM448.4,372.8a2.6,2.6 0 1,0 5.2,0a2.6,2.6 0 1,0 -5.2,0zM449.4,373.6a2.6,2.6 0 1,0 5.2,0a2.6,2.6 0 1,0 -5.2,0zM450.4,372.8a2.6,2.6 0 1,0 5.2,0a2.6,2.6 0 1,0 -5.2,0zM451.4,373.2a2.6,2.6 0 1,0 5.2,0a2.6,2.6 0 1,0 -5.2,0zM452.4,373.1a2.6,2.6 0 1,0 5.2,0a2.6,2.6 0 1,0 -5.2,0zM453.4,373.3a2.6,2.6 0 1,0 5.2,0a2.6,2.6 0 1,0 -5.2,0zM454.4,374.2a2.6,2.6 0 1,0 5.2,0a2.6,2.6 0 1,0 -5.2,0zM455.4,373.5a2.6,2.6 0 1,0 5.2,0a2.6,2.6 0 1,0 -5.2,0zM456.4,374.2a2.6,2.6 0 1,0 5.2,0a2.6,2.6 0 1,0 -5.2,0zM457.4,374.1a2.6,2.6 0 1,0 5.2,0a2.6,2.6 0 1,0 -5.2,0zM458.4,374.4a2.6,2.6 0 1,0 5.2,0a2.6,2.6 0 1,0 -5.2,0zM459.4,375.2a2.6,2.6 0 1,0 5.2,0a2.6,2.6 0 1,0 -5.2,0zM460.4,374a2.6,2.6 0 1,0 5.2,0a2.6,2.6 0 1,0 -5.2,0zM461.4,375.4a2.6,2.6 0 1,0 5.2,0a2.6,2.6 0 1,0 -5.2,0zM462.4,374.8a2.6,2.6 0 1,0 5.2,0a2.6,2.6 0 1,0 -5.2,0zM463.4,375.5a2.6,2.6 0 1,0 5.2,0a2.6,2.6 0 1,0 -5.2,0zM464.4,375.9a2.6,2.6 0 1,0 5.2,0a2.6,2.6 0 1,0 -5.2,0zM465.4,375.9a2.6,2.6 0 1,0 5.2,0a2.6,2.6 0 1,0 -5.2,0zM466.4,375.7a2.6,2.6 0 1,0 5.2,0a2.6,2.6 0 1,0 -5.2,0zM467.4,376.6a2.6,2.6 0 1,0 5.2,0a2.6,2.6 0 1,0 -5.2,0zM468.4,375.6a2.6,2.6 0 1,0 5.2,0a2.6,2.6 0 1,0 -5.2,0zM469.4,376.7a2.6,2.6 0 1,0 5.2,0a2.6,2.6 0 1,0 -5.2,0zM470.4,376.5a2.6,2.6 0 1,0 5.2,0a2.6,2.6 0 1,0 -5.2,0zM471.4,376.9a2.6,2.6 0 1,0 5.2,0a2.6,2.6 0 1,0 -5.2,0zM472.4,377.7a2.6,2.6 0 1,0 5.2,0a2.6,2.6 0 1,0 -5.2,0zM473.4,377.8a2.6,2.6 0 1,0 5.2,0a2.6,2.6 0 1,0 -5.2,0zM474.4,377.7a2.6,2.6 0 1,0 5.2,0a2.6,2.6 0 1,0 -5.2,0zM475.4,377.4a2.6,2.6 0 1,0 5.2,0a2.6,2.6 0 1,0 -5.2,0zM476.4,377.5a2.6,2.6 0 1,0 5.2,0a2.6,2.6 0 1,0 -5.2,0zM477.4,378.1a2.6,2.6 0 1,0 5.2,0a2.6,2.6 0 1,0 -5.2,0zM478.4,378a2.6,2.6 0 1,0 5.2,0a2.6,2.6 0 1,0 -5.2,0zM479.4,378.4a2.6,2.6 0 1,0 5.2,0a2.6,2.6 0 1,0 -5.2,0zM480.4,379.7a2.6,2.6 0 1,0 5.2,0a2.6,2.6 0 1,0 -5.2,0zM481.4,378.6a2.6,2.6 0 1,0 5.2,0a2.6,2.6 0 1,0 -5.2,0zM482.4,379.9a2.6,2.6 0 1,0 5.2,0a2.6,2.6 0 1,0 -5.2,0zM483.4,379.4a2.6,2.6 0 1,0 5.2,0a2.6,2.6 0 1,0 -5.2,0zM484.4,379.4a2.6,2.6 0 1,0 5.2,0a2.6,2.6 0 1,0 -5.2,0zM485.4,379.1a2.6,2.6 0 1,0 5.2,0a2.6,2.6 0 1,0 -5.2,0zM486.4,378.1a2.6,2.6 0 1,0 5.2,0a2.6,2.6 0 1,0 -5.2,0zM487.4,377.6a2.6,2.6 0 1,0 5.2,0a2.6,2.6 0 1,0 -5.2,0zM488.4,376.1a2.6,2.6 0 1,0 5.2,0a2.6,2.6 0 1,0 -5.2,0zM489.4,375.2a2.6,2.6 0 1,0 5.2,0a2.6,2.6 0 1,0 -5.2,0zM490.4,373.7a2.6,2.6 0 1,0 5.2,0a2.6,2.6 0 1,0 -5.2,0zM491.4,373.5a2.6,2.6 0 1,0 5.2,0a2.6,2.6 0 1,0 -5.2,0zM492.4,372.4a2.6,2.6 0 1,0 5.2,0a2.6,2.6 0 1,0 -5.2,0zM493.4,370.6a2.6,2.6 0 1,0 5.2,0a2.6,2.6 0 1,0 -5.2,0zM494.4,369.9a2.6,2.6 0 1,0 5.2,0a2.6,2.6 0 1,0 -5.2,0zM495.4,369.5a2.6,2.6 0 1,0 5.2,0a2.6,2.6 0 1,0 -5.2,0zM496.4,367.6a2.6,2.6 0 1,0 5.2,0a2.6,2.6 0 1,0 -5.2,0zM497.4,366.5a2.6,2.6 0 1,0 5.2,0a2.6,2.6 0 1,0 -5.2,0zM498.4,365.9a2.6,2.6 0 1,0 5.2,0a2.6,2.6 0 1,0 -5.2,0zM499.4,365.2a2.6,2.6 0 1,0 5.2,0a2.6,2.6 0 1,0 -5.2,0zM500.4,365.4a2.6,2.6 0 1,0 5.2,0a2.6,2.6 0 1,0 -5.2,0zM501.4,364.4a2.6,2.6 0 1,0 5.2,0a2.6,2.6 0 1,0 -5.2,0zM502.4,363.9a2.6,2.6 0 1,0 5.2,0a2.6,2.6 0 1,0 -5.2,0zM503.4,364.2a2.6,2.6 0 1,0 5.2,0a2.6,2.6 0 1,0 -5.2,0zM504.4,362.9a2.6,2.6 0 1,0 5.2,0a2.6,2.6 0 1,0 -5.2,0zM505.4,363.5a2.6,2.6 0 1,0 5.2,0a2.6,2.6 0 1,0 -5.2,0zM506.4,362.9a2.6,2.6 0 1,0 5.2,0a2.6,2.6 0 1,0 -5.2,0zM507.4,362.2a2.6,2.6 0 1,0 5.2,0a2.6,2.6 0 1,0 -5.2,0zM508.4,362.6a2.6,2.6 0 1,0 5.2,0a2.6,2.6 0 1,0 -5.2,0zM509.4,361.6a2.6,2.6 0 1,0 5.2,0a2.6,2.6 0 1,0 -5.2,0zM510.4,362.3a2.6,2.6 0 1,0 5.2,0a2.6,2.6 0 1,0 -5.2,0zM511.4,362.1a2.6,2.6 0 1,0 5.2,0a2.6,2.6 0 1,0 -5.2,0zM512.4,361.3a2.6,2.6 0 1,0 5.2,0a2.6,2.6 0 1,0 -5.2,0zM513.4,361.5a2.6,2.6 0 1,0 5.2,0a2.6,2.6 0 1,0 -5.2,0zM514.4,361.7a2.6,2.6 0 1,0 5.2,0a2.6,2.6 0 1,0 -5.2,0zM515.4,361.3a2.6,2.6 0 1,0 5.2,0a2.6,2.6 0 1,0 -5.2,0zM516.4,361.2a2.6,2.6 0 1,0 5.2,0a2.6,2.6 0 1,0 -5.2,0zM517.4,361.3a2.6,2.6 0 1,0 5.2,0a2.6,2.6 0 1,0 -5.2,0zM518.4,361.3a2.6,2.6 0 1,0 5.2,0a2.6,2.6 0 1,0 -5.2,0zM519.4,361a2.6,2.6 0 1,0 5.2,0a2.6,2.6 0 1,0 -5.2,0zM520.4,361.3a2.6,2.6 0 1,0 5.2,0a2.6,2.6 0 1,0 -5.2,0zM521.4,360.1a2.6,2.6 0 1,0 5.2,0a2.6,2.6 0 1,0 -5.2,0zM522.4,360.6a2.6,2.6 0 1,0 5.2,0a2.6,2.6 0 1,0 -5.2,0zM523.4,360.6a2.6,2.6 0 1,0 5.2,0a2.6,2.6 0 1,0 -5.2,0zM524.4,360.1a2.6,2.6 0 1,0 5.2,0a2.6,2.6 0 1,0 -5.2,0zM525.4,360.1a2.6,2.6 0 1,0 5.2,0a2.6,2.6 0 1,0 -5.2,0zM526.4,359.8a2.6,2.6 0 1,0 5.2,0a2.6,2.6 0 1,0 -5.2,0zM527.4,361a2.6,2.6 0 1,0 5.2,0a2.6,2.6 0 1,0 -5.2,0zM528.4,360a2.6,2.6 0 1,0 5.2,0a2.6,2.6 0 1,0 -5.2,0zM529.4,360.2a2.6,2.6 0 1,0 5.2,0a2.6,2.6 0 1,0 -5.2,0zM530.4,360.9a2.6,2.6 0 1,0 5.2,0a2.6,2.6 0 1,0 -5.2,0zM531.4,359.7a2.6,2.6 0 1,0 5.2,0a2.6,2.6 0 1,0 -5.2,0zM532.4,361a2.6,2.6 0 1,0 5.2,0a2.6,2.6 0 1,0 -5.2,0zM533.4,359.6a2.6,2.6 0 1,0 5.2,0a2.6,2.6 0 1,0 -5.2,0z" fill="#ee3c3c"/>
<path d="M80,34.9 81.3,35.5 82.6,35.6 83.9,36.1 85.2,36.4 86.5,36 87.8,36.2 89.1,37.4 90.4,37 91.7,37.2 93,38.3 94.3,37.9 95.6,38.6 96.9,38.4 98.2,38.8 99.5,38.5 100.8,39.3 102.1,39.9 103.4,39.7 104.7,40.2 106,40.4 107.3,39.9 108.6,41 109.9,41.1 111.2,41 112.5,40.9 113.8,42.1 115.1,41.9 116.4,42.4 117.7,42.8 119,42.8 120.3,43.4 121.6,43 122.9,43.8 124.2,43.8 125.5,44.7 126.8,45 128.1,44.5 129.4,44.9 130.7,45.2 132,46.6 133.3,46.4 134.6,47.1 135.9,47.3 137.2,48 138.5,48.4 139.8,48.9 141.1,49.9 142.4,50.7 143.7,52.5 145,53.6 146.3,55 147.6,56 148.9,57.3 150.2,58.1 151.5,58.7 152.8,60.8 154.1,62.1 155.4,63.3 156.7,63.8 158,65.3 159.3,66.6 160.6,69.2 161.9,70.9 163.2,72.6 164.5,74.3 165.8,77.3 167.1,79.5 168.4,80.4 169.7,83.3 171,84.9 172.3,86.7 173.6,88.9 174.9,91.5 176.2,93.7 177.5,94.7 178.8,97.4 180.1,98.7 181.4,101.5 182.7,102.9 184,105.5 185.3,107.5 186.6,108.8 187.9,111.3 189.2,112.4 190.5,114.2 191.8,117.2 193.1,119.4 194.4,122.9 195.7,125.8 197,129.1 198.3,132.1 199.6,135.6 200.9,140.5 202.2,141.6 203.5,143.3 204.8,143.7 206.1,143.4 207.4,143.7 208.7,143.8 210,144 211.3,144 212.6,144 213.9,144.2 215.2,144.6 216.5,144.1 217.8,144 219.1,144.5 220.4,143.7 221.7,143.8 223,145 224.3,144.2 225.6,144.3 226.9,143.4 228.2,144.1 229.5,144.4 230.8,143.4 232.1,144.5 233.4,144.6 234.7,143.5 236,144.6 237.3,144.3 238.6,144.7 239.9,144.1 241.2,144.8 242.5,144.9 243.8,143.6 245.1,143.6 246.4,144.8 247.7,145.3 249,144 250.3,144.4 251.6,144.6 252.9,144.1 254.2,144.2 255.5,144.2 256.8,144.3 258.1,144.7 259.4,144.2 260.7,144.4 262,145.2 263.3,143.9 264.6,144.9 265.9,145.2 267.2,144.5 268.5,144.4 269.8,145.6 271.1,144.6 272.4,144.6 273.7,145.1 275,145.7 276.3,144.7 277.6,145.2 278.9,145.4 280.2,146.4 281.5,145.9 282.8,146.9 284.1,145.9 285.4,146.5 286.7,147.4 288,148.2 289.3,147.9 290.6,147.9 291.9,148.1 293.2,148.9 294.5,148.7 295.8,149.8 297.1,150.1 298.4,149.6 299.7,150.1 301,151.2 302.3,151.4 303.6,152 304.9,151.9 306.2,152.2 307.5,153.1 308.8,154.5 310.1,154.9 311.4,156.3 312.7,157.9 314,159.5 315.3,161.2 316.6,163.8 317.9,165.1 319.2,167.4 320.5,171.3 321.8,174.2 323.1,177.6 324.4,180.8 325.7,186.1 327,191.3 328.3,195.5 329.6,200.9 330.9,206.2 332.2,211.2 333.5,217.1 334.8,225.4 336.1,236 337.4,246.9 338.7,257.4 340,268.6 341.3,276.6 342.6,282.9 343.9,286.7 345.2,291.8 346.5,295 347.8,298.3 349.1,300.9 350.4,303.3 351.7,305.1 353,306.4 354.3,309.1 355.6,310.1 356.9,311.7 358.2,313.3 359.5,314.1 360.8,314.7 362.1,316 363.4,316 364.7,316 366,316.2 367.3,317.1 368.6,316.8 369.9,317.3 371.2,317 372.5,316.9 373.8,317.4 375.1,317.8 376.4,317.1 377.7,317.9 379,318.1 380.3,318 381.6,318.1 382.9,317.2 384.2,317.9 385.5,318.3 386.8,317.3 388.1,317.7 389.4,317.7 390.7,318.1 392,318 393.3,318.1 394.6,318.5 395.9,317.6 397.2,317.7 398.5,317.9 399.8,317.9 401.1,317.9 402.4,319 403.7,318.9 405,318 406.3,318.6 407.6,318.4 408.9,318.4 410.2,318.5 411.5,318.9 412.8,318.9 414.1,318.7 415.4,318.5 416.7,318.7 418,318.5 419.3,319 420.6,319.3 421.9,318.9 423.2,318.6 424.5,318.7 425.8,319 427.1,319.3 428.4,319.5 429.7,319 431,319.6 432.3,319.4 433.6,319.2 434.9,319.1 436.2,319.3 437.5,319.6 438.8,319.3 440.1,319.7 441.4,319.5 442.7,319.3 444,319.7 445.3,319.9 446.6,319.2 447.9,319.7 449.2,319.7 450.5,320.3 451.8,320.5 453.1,319.8 454.4,320.5 455.7,320.5 457,319.9 458.3,320.2 459.6,319.8 460.9,320.7 462.2,320.6 463.5,320.9 464.8,320.9 466.1,320.8 467.4,320.9 468.7,320.8 470,320.3 471.3,320.9 472.6,320.3 473.9,320.5 475.2,321.4 476.5,320.5 477.8,320.7 479.1,320.8 480.4,321.8 481.7,321 483,320.9 484.3,322 485.6,321.2 486.9,322.1 488.2,322 489.5,322.3 490.8,322.5 492.1,322.2 493.4,322.5 494.7,321.7 496,322.7 497.3,322.6 498.6,322.9 499.9,322.4 501.2,323.3 502.5,323.7 503.8,322.8 505.1,323.3 506.4,323.8 507.7,324.4 509,323.9 510.3,324.1 511.6,324.5 512.9,325.3 514.2,325.8 515.5,325.7 516.8,326.1 518.1,326.5 519.4,326.9 520.7,327.4 522,327.5 523.3,328.5 524.6,329.6 525.9,329.5 527.2,330.4 528.5,330.2 529.8,331.3 531.1,331.9 532.4,332.2 533.7,332.5 535,333 536.3,333.7" fill="none" stroke="#1a7ae0" stroke-width="1"/><path d="M80,31.3l3.2,6.2h-6.4zM81.3,31.9l3.2,6.2h-6.4zM82.6,32l3.2,6.2h-6.4zM83.9,32.5l3.2,6.2h-6.4zM85.2,32.8l3.2,6.2h-6.4zM86.5,32.4l3.2,6.2h-6.4zM87.8,32.6l3.2,6.2h-6.4zM89.1,33.8l3.2,6.2h-6.4zM90.4,33.4l3.2,6.2h-6.4zM91.7,33.6l3.2,6.2h-6.4zM93,34.7l3.2,6.2h-6.4zM94.3,34.3l3.2,6.2h-6.4zM95.6,35l3.2,6.2h-6.4zM96.9,34.8l3.2,6.2h-6.4zM98.2,35.2l3.2,6.2h-6.4zM99.5,34.9l3.2,6.2h-6.4zM100.8,35.7l3.2,6.2h-6.4zM102.1,36.3l3.2,6.2h-6.4zM103.4,36.1l3.2,6.2h-6.4zM104.7,36.6l3.2,6.2h-6.4zM106,36.8l3.2,6.2h-6.4zM107.3,36.3l3.2,6.2h-6.4zM108.6,37.4l3.2,6.2h-6.4zM109.9,37.5l3.2,6.2h-6.4zM111.2,37.4l3.2,6.2h-6.4zM112.5,37.3l3.2,6.2h-6.4zM113.8,38.5l3.2,6.2h-6.4zM115.1,38.3l3.2,6.2h-6.4zM116.4,38.8l3.2,6.2h-6.4zM117.7,39.2l3.2,6.2h-6.4zM119,39.2l3.2,6.2h-6.4zM120.3,39.8l3.2,6.2h-6.4zM121.6,39.4l3.2,6.2h-6.4zM122.9,40.2l3.2,6.2h-6.4zM124.2,40.2l3.2,6.2h-6.4zM125.5,41.1l3.2,6.2h-6.4zM126.8,41.4l3.2,6.2h-6.4zM128.1,40.9l3.2,6.2h-6.4zM129.4,41.3l3.2,6.2h-6.4zM130.7,41.6l3.2,6.2h-6.4zM132,43l3.2,6.2h-6.4zM133.3,42.8l3.2,6.2h-6.4zM134.6,43.5l3.2,6.2h-6.4zM135.9,43.7l3.2,6.2h-6.4zM137.2,44.4l3.2,6.2h-6.4zM138.5,44.8l3.2,6.2h-6.4zM139.8,45.3l3.2,6.2h-6.4zM141.1,46.3l3.2,6.2h-6.4zM142.4,47.1l3.2,6.2h-6.4zM143.7,48.9l3.2,6.2h-6.4zM145,50l3.2,6.2h-6.4zM146.3,51.4l3.2,6.2h-6.4zM147.6,52.4l3.2,6.2h-6.4zM148.9,53.7l3.2,6.2h-6.4zM150.2,54.5l3.2,6.2h-6.4zM151.5,55.1l3.2,6.2h-6.4zM152.8,57.2l3.2,6.2h-6.4zM154.1,58.5l3.2,6.2h-6.4zM155.4,59.7l3.2,6.2h-6.4zM156.7,60.2l3.2,6.2h-6.4zM158,61.7l3.2,6.2h-6.4zM159.3,63l3.2,6.2h-6.4zM160.6,65.6l3.2,6.2h-6.4zM161.9,67.3l3.2,6.2h-6.4zM163.2,69l3.2,6.2h-6.4zM164.5,70.7l3.2,6.2h-6.4zM165.8,73.7l3.2,6.2h-6.4zM167.1,75.9l3.2,6.2h-6.4zM168.4,76.8l3.2,6.2h-6.4zM169.7,79.7l3.2,6.2h-6.4zM171,81.3l3.2,6.2h-6.4zM172.3,83.1l3.2,6.2h-6.4zM173.6,85.3l3.2,6.2h-6.4zM174.9,87.9l3.2,6.2h-6.4zM176.2,90.1l3.2,6.2h-6.4zM177.5,91.1l3.2,6.2h-6.4zM178.8,93.8l3.2,6.2h-6.4zM180.1,95.1l3.2,6.2h-6.4zM181.4,97.9l3.2,6.2h-6.4zM182.7,99.3l3.2,6.2h-6.4zM184,101.9l3.2,6.2h-6.4zM185.3,103.9l3.2,6.2h-6.4zM186.6,105.2l3.2,6.2h-6.4zM187.9,107.7l3.2,6.2h-6.4zM189.2,108.8l3.2,6.2h-6.4zM190.5,110.6l3.2,6.2h-6.4zM191.8,113.6l3.2,6.2h-6.4zM193.1,115.8l3.2,6.2h-6.4zM194.4,119.3l3.2,6.2h-6.4zM195.7,122.2l3.2,6.2h-6.4zM197,125.5l3.2,6.2h-6.4zM198.3,128.5l3.2,6.2h-6.4zM199.6,132l3.2,6.2h-6.4zM200.9,136.9l3.2,6.2h-6.4zM202.2,138l3.2,6.2h-6.4zM203.5,139.7l3.2,6.2h-6.4zM204.8,140.1l3.2,6.2h-6.4zM206.1,139.8l3.2,6.2h-6.4zM207.4,140.1l3.2,6.2h-6.4zM208.7,140.2l3.2,6.2h-6.4zM210,140.4l3.2,6.2h-6.4zM211.3,140.4l3.2,6.2h-6.4zM212.6,140.4l3.2,6.2h-6.4zM213.9,140.6l3.2,6.2h-6.4zM215.2,141l3.2,6.2h-6.4zM216.5,140.5l3.2,6.2h-6.4zM217.8,140.4l3.2,6.2h-6.4zM219.1,140.9l3.2,6.2h-6.4zM220.4,140.1l3.2,6.2h-6.4zM221.7,140.2l3.2,6.2h-6.4zM223,141.4l3.2,6.2h-6.4zM224.3,140.6l3.2,6.2h-6.4zM225.6,140.7l3.2,6.2h-6.4zM226.9,139.8l3.2,6.2h-6.4zM228.2,140.5l3.2,6.2h-6.4zM229.5,140.8l3.2,6.2h-6.4zM230.8,139.8l3.2,6.2h-6.4zM232.1,140.9l3.2,6.2h-6.4zM233.4,141l3.2,6.2h-6.4zM234.7,139.9l3.2,6.2h-6.4zM236,141l3.2,6.2h-6.4zM237.3,140.7l3.2,6.2h-6.4zM238.6,141.1l3.2,6.2h-6.4zM239.9,140.5l3.2,6.2h-6.4zM241.2,141.2l3.2,6.2h-6.4zM242.5,141.3l3.2,6.2h-6.4zM243.8,140l3.2,6.2h-6.4zM245.1,140l3.2,6.2h-6.4zM246.4,141.2l3.2,6.2h-6.4zM247.7,141.7l3.2,6.2h-6.4zM249,140.4l3.2,6.2h-6.4zM250.3,140.8l3.2,6.2h-6.4zM251.6,141l3.2,6.2h-6.4zM252.9,140.5l3.2,6.2h-6.4zM254.2,140.6l3.2,6.2h-6.4zM255.5,140.6l3.2,6.2h-6.4zM256.8,140.7l3.2,6.2h-6.4zM258.1,141.1l3.2,6.2h-6.4zM259.4,140.6l3.2,6.2h-6.4zM260.7,140.8l3.2,6.2h-6.4zM262,141.6l3.2,6.2h-6.4zM263.3,140.3l3.2,6.2h-6.4zM264.6,141.3l3.2,6.2h-6.4zM265.9,141.6l3.2,6.2h-6.4zM267.2,140.9l3.2,6.2h-6.4zM268.5,140.8l3.2,6.2h-6.4zM269.8,142l3.2,6.2h-6.4zM271.1,141l3.2,6.2h-6.4zM272.4,141l3.2,6.2h-6.4zM273.7,141.5l3.2,6.2h-6.4zM275,142.1l3.2,6.2h-6.4zM276.3,141.1l3.2,6.2h-6.4zM277.6,141.6l3.2,6.2h-6.4zM278.9,141.8l3.2,6.2h-6.4zM280.2,142.8l3.2,6.2h-6.4zM281.5,142.3l3.2,6.2h-6.4zM282.8,143.3l3.2,6.2h-6.4zM284.1,142.3l3.2,6.2h-6.4zM285.4,142.9l3.2,6.2h-6.4zM286.7,143.8l3.2,6.2h-6.4zM288,144.6l3.2,6.2h-6.4zM289.3,144.3l3.2,6.2h-6.4zM290.6,144.3l3.2,6.2h-6.4zM291.9,144.5l3.2,6.2h-6.4zM293.2,145.3l3.2,6.2h-6.4zM294.5,145.1l3.2,6.2h-6.4zM295.8,146.2l3.2,6.2h-6.4zM297.1,146.5l3.2,6.2h-6.4zM298.4,146l3.2,6.2h-6.4zM299.7,146.5l3.2,6.2h-6.4zM301,147.6l3.2,6.2h-6.4zM302.3,147.8l3.2,6.2h-6.4zM303.6,148.4l3.2,6.2h-6.4zM304.9,148.3l3.2,6.2h-6.4zM306.2,148.6l3.2,6.2h-6.4zM307.5,149.5l3.2,6.2h-6.4zM308.8,150.9l3.2,6.2h-6.4zM310.1,151.3l3.2,6.2h-6.4zM311.4,152.7l3.2,6.2h-6.4zM312.7,154.3l3.2,6.2h-6.4zM314,155.9l3.2,6.2h-6.4zM315.3,157.6l3.2,6.2h-6.4zM316.6,160.2l3.2,6.2h-6.4zM317.9,161.5l3.2,6.2h-6.4zM319.2,163.8l3.2,6.2h-6.4zM320.5,167.7l3.2,6.2h-6.4zM321.8,170.6l3.2,6.2h-6.4zM323.1,174l3.2,6.2h-6.4zM324.4,177.2l3.2,6.2h-6.4zM325.7,182.5l3.2,6.2h-6.4zM327,187.7l3.2,6.2h-6.4zM328.3,191.9l3.2,6.2h-6.4zM329.6,197.3l3.2,6.2h-6.4zM330.9,202.6l3.2,6.2h-6.4zM332.2,207.6l3.2,6.2h-6.4zM333.5,213.5l3.2,6.2h-6.4zM334.8,221.8l3.2,6.2h-6.4zM336.1,232.4l3.2,6.2h-6.4zM337.4,243.3l3.2,6.2h-6.4zM338.7,253.8l3.2,6.2h-6.4zM340,265l3.2,6.2h-6.4zM341.3,273l3.2,6.2h-6.4zM342.6,279.3l3.2,6.2h-6.4zM343.9,283.1l3.2,6.2h-6.4zM345.2,288.2l3.2,6.2h-6.4zM346.5,291.4l3.2,6.2h-6.4zM347.8,294.7l3.2,6.2h-6.4zM349.1,297.3l3.2,6.2h-6.4zM350.4,299.7l3.2,6.2h-6.4zM351.7,301.5l3.2,6.2h-6.4zM353,302.8l3.2,6.2h-6.4zM354.3,305.5l3.2,6.2h-6.4zM355.6,306.5l3.2,6.2h-6.4zM356.9,308.1l3.2,6.2h-6.4zM358.2,309.7l3.2,6.2h-6.4zM359.5,310.5l3.2,6.2h-6.4zM360.8,311.1l3.2,6.2h-6.4zM362.1,312.4l3.2,6.2h-6.4zM363.4,312.4l3.2,6.2h-6.4zM364.7,312.4l3.2,6.2h-6.4zM366,312.6l3.2,6.2h-6.4zM367.3,313.5l3.2,6.2h-6.4zM368.6,313.2l3.2,6.2h-6.4zM369.9,313.7l3.2,6.2h-6.4zM371.2,313.4l3.2,6.2h-6.4zM372.5,313.3l3.2,6.2h-6.4zM373.8,313.8l3.2,6.2h-6.4zM375.1,314.2l3.2,6.2h-6.4zM376.4,313.5l3.2,6.2h-6.4zM377.7,314.3l3.2,6.2h-6.4zM379,314.5l3.2,6.2h-6.4zM380.3,314.4l3.2,6.2h-6.4zM381.6,314.5l3.2,6.2h-6.4zM382.9,313.6l3.2,6.2h-6.4zM384.2,314.3l3.2,6.2h-6.4zM385.5,314.7l3.2,6.2h-6.4zM386.8,313.7l3.2,6.2h-6.4zM388.1,314.1l3.2,6.2h-6.4zM389.4,314.1l3.2,6.2h-6.4zM390.7,314.5l3.2,6.2h-6.4zM392,314.4l3.2,6.2h-6.4zM393.3,314.5l3.2,6.2h-6.4zM394.6,314.9l3.2,6.2h-6.4zM395.9,314l3.2,6.2h-6.4zM397.2,314.1l3.2,6.2h-6.4zM398.5,314.3l3.2,6.2h-6.4zM399.8,314.3l3.2,6.2h-6.4zM401.1,314.3l3.2,6.2h-6.4zM402.4,315.4l3.2,6.2h-6.4zM403.7,315.3l3.2,6.2h-6.4zM405,314.4l3.2,6.2h-6.4zM406.3,315l3.2,6.2h-6.4zM407.6,314.8l3.2,6.2h-6.4zM408.9,314.8l3.2,6.2h-6.4zM410.2,314.9l3.2,6.2h-6.4zM411.5,315.3l3.2,6.2h-6.4zM412.8,315.3l3.2,6.2h-6.4zM414.1,315.1l3.2,6.2h-6.4zM415.4,314.9l3.2,6.2h-6.4zM416.7,315.1l3.2,6.2h-6.4zM418,314.9l3.2,6.2h-6.4zM419.3,315.4l3.2,6.2h-6.4zM420.6,315.7l3.2,6.2h-6.4zM421.9,315.3l3.2,6.2h-6.4zM423.2,315l3.2,6.2h-6.4zM424.5,315.1l3.2,6.2h-6.4zM425.8,315.4l3.2,6.2h-6.4zM427.1,315.7l3.2,6.2h-6.4zM428.4,315.9l3.2,6.2h-6.4zM429.7,315.4l3.2,6.2h-6.4zM431,316l3.2,6.2h-6.4zM432.3,315.8l3.2,6.2h-6.4zM433.6,315.6l3.2,6.2h-6.4zM434.9,315.5l3.2,6.2h-6.4zM436.2,315.7l3.2,6.2h-6.4zM437.5,316l3.2,6.2h-6.4zM438.8,315.7l3.2,6.2h-6.4zM440.1,316.1l3.2,6.2h-6.4zM441.4,315.9l3.2,6.2h-6.4zM442.7,315.7l3.2,6.2h-6.4zM444,316.1l3.2,6.2h-6.4zM445.3,316.3l3.2,6.2h-6.4zM446.6,315.6l3.2,6.2h-6.4zM447.9,316.1l3.2,6.2h-6.4zM449.2,316.1l3.2,6.2h-6.4zM450.5,316.7l3.2,6.2h-6.4zM451.8,316.9l3.2,6.2h-6.4zM453.1,316.2l3.2,6.2h-6.4zM454.4,316.9l3.2,6.2h-6.4zM455.7,316.9l3.2,6.2h-6.4zM457,316.3l3.2,6.2h-6.4zM458.3,316.6l3.2,6.2h-6.4zM459.6,316.2l3.2,6.2h-6.4zM460.9,317.1l3.2,6.2h-6.4zM462.2,317l3.2,6.2h-6.4zM463.5,317.3l3.2,6.2h-6.4zM464.8,317.3l3.2,6.2h-6.4zM466.1,317.2l3.2,6.2h-6.4zM467.4,317.3l3.2,6.2h-6.4zM468.7,317.2l3.2,6.2h-6.4zM470,316.7l3.2,6.2h-6.4zM471.3,317.3l3.2,6.2h-6.4zM472.6,316.7l3.2,6.2h-6.4zM473.9,316.9l3.2,6.2h-6.4zM475.2,317.8l3.2,6.2h-6.4zM476.5,316.9l3.2,6.2h-6.4zM477.8,317.1l3.2,6.2h-6.4zM479.1,317.2l3.2,6.2h-6.4zM480.4,318.2l3.2,6.2h-6.4zM481.7,317.4l3.2,6.2h-6.4zM483,317.3l3.2,6.2h-6.4zM484.3,318.4l3.2,6.2h-6.4zM485.6,317.6l3.2,6.2h-6.4zM486.9,318.5l3.2,6.2h-6.4zM488.2,318.4l3.2,6.2h-6.4zM489.5,318.7l3.2,6.2h-6.4zM490.8,318.9l3.2,6.2h-6.4zM492.1,318.6l3.2,6.2h-6.4zM493.4,318.9l3.2,6.2h-6.4zM494.7,318.1l3.2,6.2h-6.4zM496,319.1l3.2,6.2h-6.4zM497.3,319l3.2,6.2h-6.4zM498.6,319.3l3.2,6.2h-6.4zM499.9,318.8l3.2,6.2h-6.4zM501.2,319.7l3.2,6.2h-6.4zM502.5,320.1l3.2,6.2h-6.4zM503.8,319.2l3.2,6.2h-6.4zM505.1,319.7l3.2,6.2h-6.4zM506.4,320.2l3.2,6.2h-6.4zM507.7,320.8l3.2,6.2h-6.4zM509,320.3l3.2,6.2h-6.4zM510.3,320.5l3.2,6.2h-6.4zM511.6,320.9l3.2,6.2h-6.4zM512.9,321.7l3.2,6.2h-6.4zM514.2,322.2l3.2,6.2h-6.4zM515.5,322.1l3.2,6.2h-6.4zM516.8,322.5l3.2,6.2h-6.4zM518.1,322.9l3.2,6.2h-6.4zM519.4,323.3l3.2,6.2h-6.4zM520.7,323.8l3.2,6.2h-6.4zM522,323.9l3.2,6.2h-6.4zM523.3,324.9l3.2,6.2h-6.4zM524.6,326l3.2,6.2h-6.4zM525.9,325.9l3.2,6.2h-6.4zM527.2,326.8l3.2,6.2h-6.4zM528.5,326.6l3.2,6.2h-6.4zM529.8,327.7l3.2,6.2h-6.4zM531.1,328.3l3.2,6.2h-6.4zM532.4,328.6l3.2,6.2h-6.4zM533.7,328.9l3.2,6.2h-6.4zM535,329.4l3.2,6.2h-6.4zM536.3,330.1l3.2,6.2h-6.4z" fill="#1a7ae0"/>
<path d="M80,34.9 81.3,35.1 82.6,35.6 83.9,35.6 85.2,35.8 86.5,36.3 87.8,37 89.1,37.1 90.4,37.3 91.7,37 93,37.5 94.3,37.5 95.6,37.6 96.9,37.8 98.2,38.1 99.5,38.9 100.8,39 102.1,39.2 103.4,39.4 104.7,39.1 106,39.5 107.3,40 108.6,40.3 109.9,40.6 111.2,40.8 112.5,40.3 113.8,41 115.1,41.2 116.4,41.2 117.7,41.1 119,41.6 120.3,41.5 121.6,42.5 122.9,42.7 124.2,42.7 125.5,42.7 126.8,43.5 128.1,43.5 129.4,44.2 130.7,44.6 132,44.5 133.3,44.8 134.6,45.5 135.9,45.7 137.2,45.6 138.5,46.4 139.8,48.1 141.1,46.9 142.4,47.5 143.7,49.4 145,49.3 146.3,50.7 147.6,51.4 148.9,52.1 150.2,54.6 151.5,53.9 152.8,55.5 154.1,56.3 155.4,58.4 156.7,58.8 158,60.3 159.3,62.4 160.6,62.5 161.9,64 163.2,66.7 164.5,67.2 165.8,69.5 167.1,72.2 168.4,75.3 169.7,77.4 171,79.2 172.3,81.5 173.6,83.5 174.9,85.8 176.2,87.4 177.5,90 178.8,92.2 180.1,94.2 181.4,96 182.7,98.1 184,99.3 185.3,101.6 186.6,104.4 187.9,106.5 189.2,108.5 190.5,111.3 191.8,113.3 193.1,115.8 194.4,117.8 195.7,120.8 197,124.2 198.3,126.5 199.6,130.2 200.9,134.4 202.2,137.5 203.5,140.5 204.8,141.9 206.1,142.7 207.4,143.8 208.7,143.9 210,144.2 211.3,144.4 212.6,145.5 213.9,145.4 215.2,145.7 216.5,145.9 217.8,146.3 219.1,146.9 220.4,148.3 221.7,147.6 223,147.6 224.3,149.2 225.6,148.8 226.9,151.5 228.2,149 229.5,150.5 230.8,151.5 232.1,150.6 233.4,152.6 234.7,151.2 236,150.6 237.3,151.3 238.6,150.3 239.9,151.7 241.2,151.3 242.5,153.4 243.8,153.3 245.1,152.4 246.4,151.1 247.7,151.9 249,151.9 250.3,151.9 251.6,152.1 252.9,154.1 254.2,151.9 255.5,151.7 256.8,154.5 258.1,153.4 259.4,154.8 260.7,153.1 262,154.7 263.3,154 264.6,154.4 265.9,154.3 267.2,153.6 268.5,152.5 269.8,152.9 271.1,155 272.4,155.2 273.7,155.3 275,153.6 276.3,154.7 277.6,155.2 278.9,154.9 280.2,155.6 281.5,154.9 282.8,155.5 284.1,155.9 285.4,154.9 286.7,157 288,157.2 289.3,155.5 290.6,157.6 291.9,157.7 293.2,157.5 294.5,157.2 295.8,158.3 297.1,158 298.4,159.2 299.7,159.4 301,159.4 302.3,160.1 303.6,161.2 304.9,161.9 306.2,162.9 307.5,163.9 308.8,164.3 310.1,165.2 311.4,167.3 312.7,167.9 314,170.4 315.3,171.6 316.6,174.1 317.9,175.9 319.2,178.1 320.5,180.5 321.8,184.6 323.1,188.6 324.4,194 325.7,198.7 327,204.4 328.3,209.9 329.6,216.2 330.9,224 332.2,231.7 333.5,238.8 334.8,245.8 336.1,253 337.4,261.9 338.7,272 340,283.7 341.3,296 342.6,305 343.9,309.6 345.2,315.4 346.5,323.8 347.8,329.6 349.1,333.1 350.4,336.4 351.7,338.4 353,340 354.3,340.1 355.6,340.4 356.9,340.9 358.2,341.5 359.5,340.8 360.8,340.9 362.1,341.5 363.4,341.8 364.7,341.5 366,341.5 367.3,342 368.6,342 369.9,341.4 371.2,342.2 372.5,341.7 373.8,341.9 375.1,342.4 376.4,342.1 377.7,342.5 379,342 380.3,342.7 381.6,342.2 382.9,342.2 384.2,342.6 385.5,342.5 386.8,342.8 388.1,343.2 389.4,343.1 390.7,342.6 392,343 393.3,343.3 394.6,343.4 395.9,343.7 397.2,343.6 398.5,343.3 399.8,343.6 401.1,344.3 402.4,343.9 403.7,344.4 405,344.7 406.3,344.5 407.6,344.7 408.9,344.8 410.2,344.6 411.5,345.3 412.8,345 414.1,345.5 415.4,345.1 416.7,345.7 418,345.7 419.3,345.7 420.6,345.6 421.9,345.4 423.2,346.1 424.5,345.8 425.8,346.1 427.1,345.7 428.4,345.7 429.7,345.8 431,346.4 432.3,345.9 433.6,346.6 434.9,346.2 436.2,346.5 437.5,346.3 438.8,346.7 440.1,346.3 441.4,346.6 442.7,347.2 444,346.6 445.3,347.2 446.6,347 447.9,347 449.2,346.9 450.5,347 451.8,347.9 453.1,347.9 454.4,348 455.7,348.1 457,348.4 458.3,347.7 459.6,348.2 460.9,348.3 462.2,348.4 463.5,348.9 464.8,348.8 466.1,349.1 467.4,348.5 468.7,349 470,349.2 471.3,349.3 472.6,349.3 473.9,349.6 475.2,349.3 476.5,349.9 477.8,349.6 479.1,349.9 480.4,350.2 481.7,350.2 483,349.9 484.3,349.9 485.6,350.1 486.9,350.5 488.2,350.9 489.5,351 490.8,350.6 492.1,350.7 493.4,351.2 494.7,350.8 496,351.1 497.3,350.8 498.6,351.1 499.9,351.5 501.2,351.7 502.5,351.8 503.8,351.7 505.1,352.3 506.4,352.1 507.7,351.8 509,351.8 510.3,352.7 511.6,352.9 512.9,352.9 514.2,352.7 515.5,352.6 516.8,352.5 518.1,352.7 519.4,352.8 520.7,353.5 522,353.6 523.3,353.6 524.6,353.2 525.9,353.3 527.2,353.5 528.5,354.2 529.8,353.6 531.1,354.3 532.4,354.3 533.7,354.3 535,354.7 536.3,354.2" fill="none" stroke="#7b1ff5" stroke-width="1"/><path d="M80,31l3.4,3.9l-3.4,3.9l-3.4,-3.9zM81.3,31.2l3.4,3.9l-3.4,3.9l-3.4,-3.9zM82.6,31.7l3.4,3.9l-3.4,3.9l-3.4,-3.9zM83.9,31.7l3.4,3.9l-3.4,3.9l-3.4,-3.9zM85.2,31.9l3.4,3.9l-3.4,3.9l-3.4,-3.9zM86.5,32.4l3.4,3.9l-3.4,3.9l-3.4,-3.9zM87.8,33.1l3.4,3.9l-3.4,3.9l-3.4,-3.9zM89.1,33.2l3.4,3.9l-3.4,3.9l-3.4,-3.9zM90.4,33.4l3.4,3.9l-3.4,3.9l-3.4,-3.9zM91.7,33.1l3.4,3.9l-3.4,3.9l-3.4,-3.9zM93,33.6l3.4,3.9l-3.4,3.9l-3.4,-3.9zM94.3,33.6l3.4,3.9l-3.4,3.9l-3.4,-3.9zM95.6,33.7l3.4,3.9l-3.4,3.9l-3.4,-3.9zM96.9,33.9l3.4,3.9l-3.4,3.9l-3.4,-3.9zM98.2,34.2l3.4,3.9l-3.4,3.9l-3.4,-3.9zM99.5,35l3.4,3.9l-3.4,3.9l-3.4,-3.9zM100.8,35.1l3.4,3.9l-3.4,3.9l-3.4,-3.9zM102.1,35.3l3.4,3.9l-3.4,3.9l-3.4,-3.9zM103.4,35.5l3.4,3.9l-3.4,3.9l-3.4,-3.9zM104.7,35.2l3.4,3.9l-3.4,3.9l-3.4,-3.9zM106,35.6l3.4,3.9l-3.4,3.9l-3.4,-3.9zM107.3,36.1l3.4,3.9l-3.4,3.9l-3.4,-3.9zM108.6,36.4l3.4,3.9l-3.4,3.9l-3.4,-3.9zM109.9,36.7l3.4,3.9l-3.4,3.9l-3.4,-3.9zM111.2,36.9l3.4,3.9l-3.4,3.9l-3.4,-3.9zM112.5,36.4l3.4,3.9l-3.4,3.9l-3.4,-3.9zM113.8,37.1l3.4,3.9l-3.4,3.9l-3.4,-3.9zM115.1,37.3l3.4,3.9l-3.4,3.9l-3.4,-3.9zM116.4,37.3l3.4,3.9l-3.4,3.9l-3.4,-3.9zM117.7,37.2l3.4,3.9l-3.4,3.9l-3.4,-3.9zM119,37.7l3.4,3.9l-3.4,3.9l-3.4,-3.9zM120.3,37.6l3.4,3.9l-3.4,3.9l-3.4,-3.9zM121.6,38.6l3.4,3.9l-3.4,3.9l-3.4,-3.9zM122.9,38.8l3.4,3.9l-3.4,3.9l-3.4,-3.9zM124.2,38.8l3.4,3.9l-3.4,3.9l-3.4,-3.9zM125.5,38.8l3.4,3.9l-3.4,3.9l-3.4,-3.9zM126.8,39.6l3.4,3.9l-3.4,3.9l-3.4,-3.9zM128.1,39.6l3.4,3.9l-3.4,3.9l-3.4,-3.9zM129.4,40.3l3.4,3.9l-3.4,3.9l-3.4,-3.9zM130.7,40.7l3.4,3.9l-3.4,3.9l-3.4,-3.9zM132,40.6l3.4,3.9l-3.4,3.9l-3.4,-3.9zM133.3,40.9l3.4,3.9l-3.4,3.9l-3.4,-3.9zM134.6,41.6l3.4,3.9l-3.4,3.9l-3.4,-3.9zM135.9,41.8l3.4,3.9l-3.4,3.9l-3.4,-3.9zM137.2,41.7l3.4,3.9l-3.4,3.9l-3.4,-3.9zM138.5,42.5l3.4,3.9l-3.4,3.9l-3.4,-3.9zM139.8,44.2l3.4,3.9l-3.4,3.9l-3.4,-3.9zM141.1,43l3.4,3.9l-3.4,3.9l-3.4,-3.9zM142.4,43.6l3.4,3.9l-3.4,3.9l-3.4,-3.9zM143.7,45.5l3.4,3.9l-3.4,3.9l-3.4,-3.9zM145,45.4l3.4,3.9l-3.4,3.9l-3.4,-3.9zM146.3,46.8l3.4,3.9l-3.4,3.9l-3.4,-3.9zM147.6,47.5l3.4,3.9l-3.4,3.9l-3.4,-3.9zM148.9,48.2l3.4,3.9l-3.4,3.9l-3.4,-3.9zM150.2,50.7l3.4,3.9l-3.4,3.9l-3.4,-3.9zM151.5,50l3.4,3.9l-3.4,3.9l-3.4,-3.9zM152.8,51.6l3.4,3.9l-3.4,3.9l-3.4,-3.9zM154.1,52.4l3.4,3.9l-3.4,3.9l-3.4,-3.9zM155.4,54.5l3.4,3.9l-3.4,3.9l-3.4,-3.9zM156.7,54.9l3.4,3.9l-3.4,3.9l-3.4,-3.9zM158,56.4l3.4,3.9l-3.4,3.9l-3.4,-3.9zM159.3,58.5l3.4,3.9l-3.4,3.9l-3.4,-3.9zM160.6,58.6l3.4,3.9l-3.4,3.9l-3.4,-3.9zM161.9,60.1l3.4,3.9l-3.4,3.9l-3.4,-3.9zM163.2,62.8l3.4,3.9l-3.4,3.9l-3.4,-3.9zM164.5,63.3l3.4,3.9l-3.4,3.9l-3.4,-3.9zM165.8,65.6l3.4,3.9l-3.4,3.9l-3.4,-3.9zM167.1,68.3l3.4,3.9l-3.4,3.9l-3.4,-3.9zM168.4,71.4l3.4,3.9l-3.4,3.9l-3.4,-3.9zM169.7,73.5l3.4,3.9l-3.4,3.9l-3.4,-3.9zM171,75.3l3.4,3.9l-3.4,3.9l-3.4,-3.9zM172.3,77.6l3.4,3.9l-3.4,3.9l-3.4,-3.9zM173.6,79.6l3.4,3.9l-3.4,3.9l-3.4,-3.9zM174.9,81.9l3.4,3.9l-3.4,3.9l-3.4,-3.9zM176.2,83.5l3.4,3.9l-3.4,3.9l-3.4,-3.9zM177.5,86.1l3.4,3.9l-3.4,3.9l-3.4,-3.9zM178.8,88.3l3.4,3.9l-3.4,3.9l-3.4,-3.9zM180.1,90.3l3.4,3.9l-3.4,3.9l-3.4,-3.9zM181.4,92.1l3.4,3.9l-3.4,3.9l-3.4,-3.9zM182.7,94.2l3.4,3.9l-3.4,3.9l-3.4,-3.9zM184,95.4l3.4,3.9l-3.4,3.9l-3.4,-3.9zM185.3,97.7l3.4,3.9l-3.4,3.9l-3.4,-3.9zM186.6,100.5l3.4,3.9l-3.4,3.9l-3.4,-3.9zM187.9,102.6l3.4,3.9l-3.4,3.9l-3.4,-3.9zM189.2,104.6l3.4,3.9l-3.4,3.9l-3.4,-3.9zM190.5,107.4l3.4,3.9l-3.4,3.9l-3.4,-3.9zM191.8,109.4l3.4,3.9l-3.4,3.9l-3.4,-3.9zM193.1,111.9l3.4,3.9l-3.4,3.9l-3.4,-3.9zM194.4,113.9l3.4,3.9l-3.4,3.9l-3.4,-3.9zM195.7,116.9l3.4,3.9l-3.4,3.9l-3.4,-3.9zM197,120.3l3.4,3.9l-3.4,3.9l-3.4,-3.9zM198.3,122.6l3.4,3.9l-3.4,3.9l-3.4,-3.9zM199.6,126.3l3.4,3.9l-3.4,3.9l-3.4,-3.9zM200.9,130.5l3.4,3.9l-3.4,3.9l-3.4,-3.9zM202.2,133.6l3.4,3.9l-3.4,3.9l-3.4,-3.9zM203.5,136.6l3.4,3.9l-3.4,3.9l-3.4,-3.9zM204.8,138l3.4,3.9l-3.4,3.9l-3.4,-3.9zM206.1,138.8l3.4,3.9l-3.4,3.9l-3.4,-3.9zM207.4,139.9l3.4,3.9l-3.4,3.9l-3.4,-3.9zM208.7,140l3.4,3.9l-3.4,3.9l-3.4,-3.9zM210,140.3l3.4,3.9l-3.4,3.9l-3.4,-3.9zM211.3,140.5l3.4,3.9l-3.4,3.9l-3.4,-3.9zM212.6,141.6l3.4,3.9l-3.4,3.9l-3.4,-3.9zM213.9,141.5l3.4,3.9l-3.4,3.9l-3.4,-3.9zM215.2,141.8l3.4,3.9l-3.4,3.9l-3.4,-3.9zM216.5,142l3.4,3.9l-3.4,3.9l-3.4,-3.9zM217.8,142.4l3.4,3.9l-3.4,3.9l-3.4,-3.9zM219.1,143l3.4,3.9l-3.4,3.9l-3.4,-3.9zM220.4,144.4l3.4,3.9l-3.4,3.9l-3.4,-3.9zM221.7,143.7l3.4,3.9l-3.4,3.9l-3.4,-3.9zM223,143.7l3.4,3.9l-3.4,3.9l-3.4,-3.9zM224.3,145.3l3.4,3.9l-3.4,3.9l-3.4,-3.9zM225.6,144.9l3.4,3.9l-3.4,3.9l-3.4,-3.9zM226.9,147.6l3.4,3.9l-3.4,3.9l-3.4,-3.9zM228.2,145.1l3.4,3.9l-3.4,3.9l-3.4,-3.9zM229.5,146.6l3.4,3.9l-3.4,3.9l-3.4,-3.9zM230.8,147.6l3.4,3.9l-3.4,3.9l-3.4,-3.9zM232.1,146.7l3.4,3.9l-3.4,3.9l-3.4,-3.9zM233.4,148.7l3.4,3.9l-3.4,3.9l-3.4,-3.9zM234.7,147.3l3.4,3.9l-3.4,3.9l-3.4,-3.9zM236,146.7l3.4,3.9l-3.4,3.9l-3.4,-3.9zM237.3,147.4l3.4,3.9l-3.4,3.9l-3.4,-3.9zM238.6,146.4l3.4,3.9l-3.4,3.9l-3.4,-3.9zM239.9,147.8l3.4,3.9l-3.4,3.9l-3.4,-3.9zM241.2,147.4l3.4,3.9l-3.4,3.9l-3.4,-3.9zM242.5,149.5l3.4,3.9l-3.4,3.9l-3.4,-3.9zM243.8,149.4l3.4,3.9l-3.4,3.9l-3.4,-3.9zM245.1,148.5l3.4,3.9l-3.4,3.9l-3.4,-3.9zM246.4,147.2l3.4,3.9l-3.4,3.9l-3.4,-3.9zM247.7,148l3.4,3.9l-3.4,3.9l-3.4,-3.9zM249,148l3.4,3.9l-3.4,3.9l-3.4,-3.9zM250.3,148l3.4,3.9l-3.4,3.9l-3.4,-3.9zM251.6,148.2l3.4,3.9l-3.4,3.9l-3.4,-3.9zM252.9,150.2l3.4,3.9l-3.4,3.9l-3.4,-3.9zM254.2,148l3.4,3.9l-3.4,3.9l-3.4,-3.9zM255.5,147.8l3.4,3.9l-3.4,3.9l-3.4,-3.9zM256.8,150.6l3.4,3.9l-3.4,3.9l-3.4,-3.9zM258.1,149.5l3.4,3.9l-3.4,3.9l-3.4,-3.9zM259.4,150.9l3.4,3.9l-3.4,3.9l-3.4,-3.9zM260.7,149.2l3.4,3.9l-3.4,3.9l-3.4,-3.9zM262,150.8l3.4,3.9l-3.4,3.9l-3.4,-3.9zM263.3,150.1l3.4,3.9l-3.4,3.9l-3.4,-3.9zM264.6,150.5l3.4,3.9l-3.4,3.9l-3.4,-3.9zM265.9,150.4l3.4,3.9l-3.4,3.9l-3.4,-3.9zM267.2,149.7l3.4,3.9l-3.4,3.9l-3.4,-3.9zM268.5,148.6l3.4,3.9l-3.4,3.9l-3.4,-3.9zM269.8,149l3.4,3.9l-3.4,3.9l-3.4,-3.9zM271.1,151.1l3.4,3.9l-3.4,3.9l-3.4,-3.9zM272.4,151.3l3.4,3.9l-3.4,3.9l-3.4,-3.9zM273.7,151.4l3.4,3.9l-3.4,3.9l-3.4,-3.9zM275,149.7l3.4,3.9l-3.4,3.9l-3.4,-3.9zM276.3,150.8l3.4,3.9l-3.4,3.9l-3.4,-3.9zM277.6,151.3l3.4,3.9l-3.4,3.9l-3.4,-3.9zM278.9,151l3.4,3.9l-3.4,3.9l-3.4,-3.9zM280.2,151.7l3.4,3.9l-3.4,3.9l-3.4,-3.9zM281.5,151l3.4,3.9l-3.4,3.9l-3.4,-3.9zM282.8,151.6l3.4,3.9l-3.4,3.9l-3.4,-3.9zM284.1,152l3.4,3.9l-3.4,3.9l-3.4,-3.9zM285.4,151l3.4,3.9l-3.4,3.9l-3.4,-3.9zM286.7,153.1l3.4,3.9l-3.4,3.9l-3.4,-3.9zM288,153.3l3.4,3.9l-3.4,3.9l-3.4,-3.9zM289.3,151.6l3.4,3.9l-3.4,3.9l-3.4,-3.9zM290.6,153.7l3.4,3.9l-3.4,3.9l-3.4,-3.9zM291.9,153.8l3.4,3.9l-3.4,3.9l-3.4,-3.9zM293.2,153.6l3.4,3.9l-3.4,3.9l-3.4,-3.9zM294.5,153.3l3.4,3.9l-3.4,3.9l-3.4,-3.9zM295.8,154.4l3.4,3.9l-3.4,3.9l-3.4,-3.9zM297.1,154.1l3.4,3.9l-3.4,3.9l-3.4,-3.9zM298.4,155.3l3.4,3.9l-3.4,3.9l-3.4,-3.9zM299.7,155.5l3.4,3.9l-3.4,3.9l-3.4,-3.9zM301,155.5l3.4,3.9l-3.4,3.9l-3.4,-3.9zM302.3,156.2l3.4,3.9l-3.4,3.9l-3.4,-3.9zM303.6,157.3l3.4,3.9l-3.4,3.9l-3.4,-3.9zM304.9,158l3.4,3.9l-3.4,3.9l-3.4,-3.9zM306.2,159l3.4,3.9l-3.4,3.9l-3.4,-3.9zM307.5,160l3.4,3.9l-3.4,3.9l-3.4,-3.9zM308.8,160.4l3.4,3.9l-3.4,3.9l-3.4,-3.9zM310.1,161.3l3.4,3.9l-3.4,3.9l-3.4,-3.9zM311.4,163.4l3.4,3.9l-3.4,3.9l-3.4,-3.9zM312.7,164l3.4,3.9l-3.4,3.9l-3.4,-3.9zM314,166.5l3.4,3.9l-3.4,3.9l-3.4,-3.9zM315.3,167.7l3.4,3.9l-3.4,3.9l-3.4,-3.9zM316.6,170.2l3.4,3.9l-3.4,3.9l-3.4,-3.9zM317.9,172l3.4,3.9l-3.4,3.9l-3.4,-3.9zM319.2,174.2l3.4,3.9l-3.4,3.9l-3.4,-3.9zM320.5,176.6l3.4,3.9l-3.4,3.9l-3.4,-3.9zM321.8,180.7l3.4,3.9l-3.4,3.9l-3.4,-3.9zM323.1,184.7l3.4,3.9l-3.4,3.9l-3.4,-3.9zM324.4,190.1l3.4,3.9l-3.4,3.9l-3.4,-3.9zM325.7,194.8l3.4,3.9l-3.4,3.9l-3.4,-3.9zM327,200.5l3.4,3.9l-3.4,3.9l-3.4,-3.9zM328.3,206l3.4,3.9l-3.4,3.9l-3.4,-3.9zM329.6,212.3l3.4,3.9l-3.4,3.9l-3.4,-3.9zM330.9,220.1l3.4,3.9l-3.4,3.9l-3.4,-3.9zM332.2,227.8l3.4,3.9l-3.4,3.9l-3.4,-3.9zM333.5,234.9l3.4,3.9l-3.4,3.9l-3.4,-3.9zM334.8,241.9l3.4,3.9l-3.4,3.9l-3.4,-3.9zM336.1,249.1l3.4,3.9l-3.4,3.9l-3.4,-3.9zM337.4,258l3.4,3.9l-3.4,3.9l-3.4,-3.9zM338.7,268.1l3.4,3.9l-3.4,3.9l-3.4,-3.9zM340,279.8l3.4,3.9l-3.4,3.9l-3.4,-3.9zM341.3,292.1l3.4,3.9l-3.4,3.9l-3.4,-3.9zM342.6,301.1l3.4,3.9l-3.4,3.9l-3.4,-3.9zM343.9,305.7l3.4,3.9l-3.4,3.9l-3.4,-3.9zM345.2,311.5l3.4,3.9l-3.4,3.9l-3.4,-3.9zM346.5,319.9l3.4,3.9l-3.4,3.9l-3.4,-3.9zM347.8,325.7l3.4,3.9l-3.4,3.9l-3.4,-3.9zM349.1,329.2l3.4,3.9l-3.4,3.9l-3.4,-3.9zM350.4,332.5l3.4,3.9l-3.4,3.9l-3.4,-3.9zM351.7,334.5l3.4,3.9l-3.4,3.9l-3.4,-3.9zM353,336.1l3.4,3.9l-3.4,3.9l-3.4,-3.9zM354.3,336.2l3.4,3.9l-3.4,3.9l-3.4,-3.9zM355.6,336.5l3.4,3.9l-3.4,3.9l-3.4,-3.9zM356.9,337l3.4,3.9l-3.4,3.9l-3.4,-3.9zM358.2,337.6l3.4,3.9l-3.4,3.9l-3.4,-3.9zM359.5,336.9l3.4,3.9l-3.4,3.9l-3.4,-3.9zM360.8,337l3.4,3.9l-3.4,3.9l-3.4,-3.9zM362.1,337.6l3.4,3.9l-3.4,3.9l-3.4,-3.9zM363.4,337.9l3.4,3.9l-3.4,3.9l-3.4,-3.9zM364.7,337.6l3.4,3.9l-3.4,3.9l-3.4,-3.9zM366,337.6l3.4,3.9l-3.4,3.9l-3.4,-3.9zM367.3,338.1l3.4,3.9l-3.4,3.9l-3.4,-3.9zM368.6,338.1l3.4,3.9l-3.4,3.9l-3.4,-3.9zM369.9,337.5l3.4,3.9l-3.4,3.9l-3.4,-3.9zM371.2,338.3l3.4,3.9l-3.4,3.9l-3.4,-3.9zM372.5,337.8l3.4,3.9l-3.4,3.9l-3.4,-3.9zM373.8,338l3.4,3.9l-3.4,3.9l-3.4,-3.9zM375.1,338.5l3.4,3.9l-3.4,3.9l-3.4,-3.9zM376.4,338.2l3.4,3.9l-3.4,3.9l-3.4,-3.9zM377.7,338.6l3.4,3.9l-3.4,3.9l-3.4,-3.9zM379,338.1l3.4,3.9l-3.4,3.9l-3.4,-3.9zM380.3,338.8l3.4,3.9l-3.4,3.9l-3.4,-3.9zM381.6,338.3l3.4,3.9l-3.4,3.9l-3.4,-3.9zM382.9,338.3l3.4,3.9l-3.4,3.9l-3.4,-3.9zM384.2,338.7l3.4,3.9l-3.4,3.9l-3.4,-3.9zM385.5,338.6l3.4,3.9l-3.4,3.9l-3.4,-3.9zM386.8,338.9l3.4,3.9l-3.4,3.9l-3.4,-3.9zM388.1,339.3l3.4,3.9l-3.4,3.9l-3.4,-3.9zM389.4,339.2l3.4,3.9l-3.4,3.9l-3.4,-3.9zM390.7,338.7l3.4,3.9l-3.4,3.9l-3.4,-3.9zM392,339.1l3.4,3.9l-3.4,3.9l-3.4,-3.9zM393.3,339.4l3.4,3.9l-3.4,3.9l-3.4,-3.9zM394.6,339.5l3.4,3.9l-3.4,3.9l-3.4,-3.9zM395.9,339.8l3.4,3.9l-3.4,3.9l-3.4,-3.9zM397.2,339.7l3.4,3.9l-3.4,3.9l-3.4,-3.9zM398.5,339.4l3.4,3.9l-3.4,3.9l-3.4,-3.9zM399.8,339.7l3.4,3.9l-3.4,3.9l-3.4,-3.9zM401.1,340.4l3.4,3.9l-3.4,3.9l-3.4,-3.9zM402.4,340l3.4,3.9l-3.4,3.9l-3.4,-3.9zM403.7,340.5l3.4,3.9l-3.4,3.9l-3.4,-3.9zM405,340.8l3.4,3.9l-3.4,3.9l-3.4,-3.9zM406.3,340.6l3.4,3.9l-3.4,3.9l-3.4,-3.9zM407.6,340.8l3.4,3.9l-3.4,3.9l-3.4,-3.9zM408.9,340.9l3.4,3.9l-3.4,3.9l-3.4,-3.9zM410.2,340.7l3.4,3.9l-3.4,3.9l-3.4,-3.9zM411.5,341.4l3.4,3.9l-3.4,3.9l-3.4,-3.9zM412.8,341.1l3.4,3.9l-3.4,3.9l-3.4,-3.9zM414.1,341.6l3.4,3.9l-3.4,3.9l-3.4,-3.9zM415.4,341.2l3.4,3.9l-3.4,3.9l-3.4,-3.9zM416.7,341.8l3.4,3.9l-3.4,3.9l-3.4,-3.9zM418,341.8l3.4,3.9l-3.4,3.9l-3.4,-3.9zM419.3,341.8l3.4,3.9l-3.4,3.9l-3.4,-3.9zM420.6,341.7l3.4,3.9l-3.4,3.9l-3.4,-3.9zM421.9,341.5l3.4,3.9l-3.4,3.9l-3.4,-3.9zM423.2,342.2l3.4,3.9l-3.4,3.9l-3.4,-3.9zM424.5,341.9l3.4,3.9l-3.4,3.9l-3.4,-3.9zM425.8,342.2l3.4,3.9l-3.4,3.9l-3.4,-3.9zM427.1,341.8l3.4,3.9l-3.4,3.9l-3.4,-3.9zM428.4,341.8l3.4,3.9l-3.4,3.9l-3.4,-3.9zM429.7,341.9l3.4,3.9l-3.4,3.9l-3.4,-3.9zM431,342.5l3.4,3.9l-3.4,3.9l-3.4,-3.9zM432.3,342l3.4,3.9l-3.4,3.9l-3.4,-3.9zM433.6,342.7l3.4,3.9l-3.4,3.9l-3.4,-3.9zM434.9,342.3l3.4,3.9l-3.4,3.9l-3.4,-3.9zM436.2,342.6l3.4,3.9l-3.4,3.9l-3.4,-3.9zM437.5,342.4l3.4,3.9l-3.4,3.9l-3.4,-3.9zM438.8,342.8l3.4,3.9l-3.4,3.9l-3.4,-3.9zM440.1,342.4l3.4,3.9l-3.4,3.9l-3.4,-3.9zM441.4,342.7l3.4,3.9l-3.4,3.9l-3.4,-3.9zM442.7,343.3l3.4,3.9l-3.4,3.9l-3.4,-3.9zM444,342.7l3.4,3.9l-3.4,3.9l-3.4,-3.9zM445.3,343.3l3.4,3.9l-3.4,3.9l-3.4,-3.9zM446.6,343.1l3.4,3.9l-3.4,3.9l-3.4,-3.9zM447.9,343.1l3.4,3.9l-3.4,3.9l-3.4,-3.9zM449.2,343l3.4,3.9l-3.4,3.9l-3.4,-3.9zM450.5,343.1l3.4,3.9l-3.4,3.9l-3.4,-3.9zM451.8,344l3.4,3.9l-3.4,3.9l-3.4,-3.9zM453.1,344l3.4,3.9l-3.4,3.9l-3.4,-3.9zM454.4,344.1l3.4,3.9l-3.4,3.9l-3.4,-3.9zM455.7,344.2l3.4,3.9l-3.4,3.9l-3.4,-3.9zM457,344.5l3.4,3.9l-3.4,3.9l-3.4,-3.9zM458.3,343.8l3.4,3.9l-3.4,3.9l-3.4,-3.9zM459.6,344.3l3.4,3.9l-3.4,3.9l-3.4,-3.9zM460.9,344.4l3.4,3.9l-3.4,3.9l-3.4,-3.9zM462.2,344.5l3.4,3.9l-3.4,3.9l-3.4,-3.9zM463.5,345l3.4,3.9l-3.4,3.9l-3.4,-3.9zM464.8,344.9l3.4,3.9l-3.4,3.9l-3.4,-3.9zM466.1,345.2l3.4,3.9l-3.4,3.9l-3.4,-3.9zM467.4,344.6l3.4,3.9l-3.4,3.9l-3.4,-3.9zM468.7,345.1l3.4,3.9l-3.4,3.9l-3.4,-3.9zM470,345.3l3.4,3.9l-3.4,3.9l-3.4,-3.9zM471.3,345.4l3.4,3.9l-3.4,3.9l-3.4,-3.9zM472.6,345.4l3.4,3.9l-3.4,3.9l-3.4,-3.9zM473.9,345.7l3.4,3.9l-3.4,3.9l-3.4,-3.9zM475.2,345.4l3.4,3.9l-3.4,3.9l-3.4,-3.9zM476.5,346l3.4,3.9l-3.4,3.9l-3.4,-3.9zM477.8,345.7l3.4,3.9l-3.4,3.9l-3.4,-3.9zM479.1,346l3.4,3.9l-3.4,3.9l-3.4,-3.9zM480.4,346.3l3.4,3.9l-3.4,3.9l-3.4,-3.9zM481.7,346.3l3.4,3.9l-3.4,3.9l-3.4,-3.9zM483,346l3.4,3.9l-3.4,3.9l-3.4,-3.9zM484.3,346l3.4,3.9l-3.4,3.9l-3.4,-3.9zM485.6,346.2l3.4,3.9l-3.4,3.9l-3.4,-3.9zM486.9,346.6l3.4,3.9l-3.4,3.9l-3.4,-3.9zM488.2,347l3.4,3.9l-3.4,3.9l-3.4,-3.9zM489.5,347.1l3.4,3.9l-3.4,3.9l-3.4,-3.9zM490.8,346.7l3.4,3.9l-3.4,3.9l-3.4,-3.9zM492.1,346.8l3.4,3.9l-3.4,3.9l-3.4,-3.9zM493.4,347.3l3.4,3.9l-3.4,3.9l-3.4,-3.9zM494.7,346.9l3.4,3.9l-3.4,3.9l-3.4,-3.9zM496,347.2l3.4,3.9l-3.4,3.9l-3.4,-3.9zM497.3,346.9l3.4,3.9l-3.4,3.9l-3.4,-3.9zM498.6,347.2l3.4,3.9l-3.4,3.9l-3.4,-3.9zM499.9,347.6l3.4,3.9l-3.4,3.9l-3.4,-3.9zM501.2,347.8l3.4,3.9l-3.4,3.9l-3.4,-3.9zM502.5,347.9l3.4,3.9l-3.4,3.9l-3.4,-3.9zM503.8,347.8l3.4,3.9l-3.4,3.9l-3.4,-3.9zM505.1,348.4l3.4,3.9l-3.4,3.9l-3.4,-3.9zM506.4,348.2l3.4,3.9l-3.4,3.9l-3.4,-3.9zM507.7,347.9l3.4,3.9l-3.4,3.9l-3.4,-3.9zM509,347.9l3.4,3.9l-3.4,3.9l-3.4,-3.9zM510.3,348.8l3.4,3.9l-3.4,3.9l-3.4,-3.9zM511.6,349l3.4,3.9l-3.4,3.9l-3.4,-3.9zM512.9,349l3.4,3.9l-3.4,3.9l-3.4,-3.9zM514.2,348.8l3.4,3.9l-3.4,3.9l-3.4,-3.9zM515.5,348.7l3.4,3.9l-3.4,3.9l-3.4,-3.9zM516.8,348.6l3.4,3.9l-3.4,3.9l-3.4,-3.9zM518.1,348.8l3.4,3.9l-3.4,3.9l-3.4,-3.9zM519.4,348.9l3.4,3.9l-3.4,3.9l-3.4,-3.9zM520.7,349.6l3.4,3.9l-3.4,3.9l-3.4,-3.9zM522,349.7l3.4,3.9l-3.4,3.9l-3.4,-3.9zM523.3,349.7l3.4,3.9l-3.4,3.9l-3.4,-3.9zM524.6,349.3l3.4,3.9l-3.4,3.9l-3.4,-3.9zM525.9,349.4l3.4,3.9l-3.4,3.9l-3.4,-3.9zM527.2,349.6l3.4,3.9l-3.4,3.9l-3.4,-3.9zM528.5,350.3l3.4,3.9l-3.4,3.9l-3.4,-3.9zM529.8,349.7l3.4,3.9l-3.4,3.9l-3.4,-3.9zM531.1,350.4l3.4,3.9l-3.4,3.9l-3.4,-3.9zM532.4,350.4l3.4,3.9l-3.4,3.9l-3.4,-3.9zM533.7,350.4l3.4,3.9l-3.4,3.9l-3.4,-3.9zM535,350.8l3.4,3.9l-3.4,3.9l-3.4,-3.9zM536.3,350.3l3.4,3.9l-3.4,3.9l-3.4,-3.9z" fill="#7b1ff5"/>
</g>
<rect x="61.1" y="7.3" width="480.9" height="415.7" fill="none" stroke="#000" stroke-width="2.2"/>
<g class="ax"><line x1="163.2" y1="423" x2="163.2" y2="415"/><line x1="271.7" y1="423" x2="271.7" y2="415"/><line x1="380.3" y1="423" x2="380.3" y2="415"/><line x1="488.8" y1="423" x2="488.8" y2="415"/><line x1="108.9" y1="423" x2="108.9" y2="418.5"/><line x1="217.5" y1="423" x2="217.5" y2="418.5"/><line x1="326.0" y1="423" x2="326.0" y2="418.5"/><line x1="434.5" y1="423" x2="434.5" y2="418.5"/><line x1="61.1" y1="422.6" x2="67.7" y2="422.6"/><line x1="61.1" y1="367.3" x2="67.7" y2="367.3"/><line x1="61.1" y1="311.9" x2="67.7" y2="311.9"/><line x1="61.1" y1="256.6" x2="67.7" y2="256.6"/><line x1="61.1" y1="201.2" x2="67.7" y2="201.2"/><line x1="61.1" y1="145.9" x2="67.7" y2="145.9"/><line x1="61.1" y1="90.6" x2="67.7" y2="90.6"/><line x1="61.1" y1="35.2" x2="67.7" y2="35.2"/><line x1="61.1" y1="395.0" x2="64.7" y2="395.0"/><line x1="61.1" y1="339.6" x2="64.7" y2="339.6"/><line x1="61.1" y1="284.3" x2="64.7" y2="284.3"/><line x1="61.1" y1="228.9" x2="64.7" y2="228.9"/><line x1="61.1" y1="173.6" x2="64.7" y2="173.6"/><line x1="61.1" y1="118.2" x2="64.7" y2="118.2"/><line x1="61.1" y1="62.9" x2="64.7" y2="62.9"/></g>
<g class="tk"><text x="163.9" y="449" text-anchor="middle">200</text><text x="272.4" y="449" text-anchor="middle">400</text><text x="381.0" y="449" text-anchor="middle">600</text><text x="489.5" y="449" text-anchor="middle">800</text><text x="53.4" y="430.1" text-anchor="end">30</text><text x="53.4" y="374.8" text-anchor="end">40</text><text x="53.4" y="319.4" text-anchor="end">50</text><text x="53.4" y="264.1" text-anchor="end">60</text><text x="53.4" y="208.8" text-anchor="end">70</text><text x="53.4" y="153.4" text-anchor="end">80</text><text x="53.4" y="98.1" text-anchor="end">90</text><text x="53.4" y="42.7" text-anchor="end">100</text>
<text x="218.400" y="482.300" textLength="167.600" lengthAdjust="spacingAndGlyphs" style="font-size:23.4px">Temperature (°C)</text>
<text transform="translate(20.800,254.900) rotate(-90)" textLength="78.800" lengthAdjust="spacingAndGlyphs" style="font-size:23.2px">TG (%)</text>
</g>
<g class="an">
<text x="242" y="58" fill="#111">120 °<tspan dx="-2.500">C</tspan></text>
<text x="279.600" y="108.500" fill="#4070c2">140 °<tspan dx="-1.500">C</tspan></text>
<text x="210.500" y="266.200" fill="#b01818">160 °<tspan dx="-1.500">C</tspan></text>
<text x="319.500" y="407.500" fill="#6b2fa0">180 °<tspan dx="-1.500">C</tspan></text>
</g>
<g class="lg">
<line x1="375.200" y1="41" x2="418.800" y2="41" stroke="#606060" stroke-width="1.500"/><rect x="394.600" y="38.600" width="4.800" height="4.800" fill="#4a4a4a"/>
<line x1="375.200" y1="69.800" x2="418.800" y2="69.800" stroke="#f04a4a" stroke-width="1.500"/><circle cx="397" cy="69.800" r="2.700" fill="#ee3c3c"/>
<line x1="375.200" y1="99.700" x2="418.800" y2="99.700" stroke="#2a84e8" stroke-width="1.500"/><path d="M394,101.800 L400,101.800 L397,96.500 Z" fill="#1a7ae0"/>
<line x1="375.200" y1="129.200" x2="418.800" y2="129.200" stroke="#4a4a4a" stroke-width="1.800"/><path d="M393.500,129.200 L397,125.100 L400.500,129.200 L397,133.300 Z" fill="#7b1ff5"/>
<text x="431" y="52.3">HT (120<tspan dy="-1.500" dx="-0.600">°</tspan><tspan dy="1.500" dx="-1">C)</tspan></text>
<text x="431" y="79.8">HT (140<tspan dy="-1.500" dx="-0.600">°</tspan><tspan dy="1.500" dx="-1">C)</tspan></text>
<text x="431" y="107.6">HT (160<tspan dy="-1.500" dx="-0.600">°</tspan><tspan dy="1.500" dx="-1">C)</tspan></text>
<text x="431" y="135">HT (180<tspan dy="-1.500" dx="-0.600">°</tspan><tspan dy="1.500" dx="-1">C)</tspan></text>
</g>
<g fill="none" stroke-linecap="round" stroke-linejoin="round">
<path d="M241.5,64.800 L212.500,97 M216.400,81.200 L212.500,97 L227.300,92.600" stroke="#0a0a0a" stroke-width="3"/>
<path d="M322,114.300 L298,150.300 M299.600,133.900 L298,150.300 L312.200,143.200" stroke="#4472c4" stroke-width="2.800"/>
<path d="M259,245.500 L259,190.500 M251,205.500 L259,190.500 L266.500,205.500" stroke="#b01818" stroke-width="2.800"/>
<path d="M391.300,389.800 L416.600,349.300 M402.300,356.900 L416.600,349.300 L415.100,366.200" stroke="#6a35a8" stroke-width="3"/>
</g>
</svg>
</body></html>
